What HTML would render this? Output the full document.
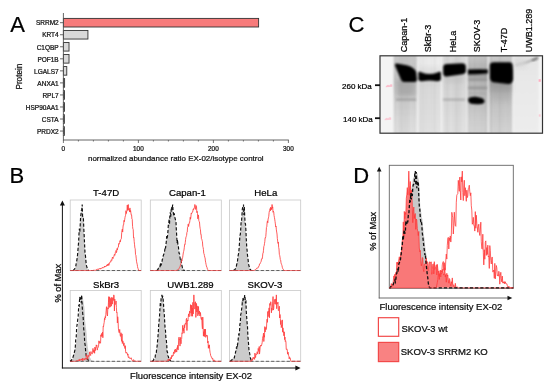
<!DOCTYPE html>
<html><head><meta charset="utf-8"><style>
html,body{margin:0;padding:0;background:#fff;}
svg{display:block;} text{stroke:#000;stroke-width:0.22px;}
</style></head><body>
<svg width="550" height="388" viewBox="0 0 550 388" font-family="'Liberation Sans', Arial, sans-serif">
<rect width="550" height="388" fill="#fff"/>
<text x="10.2" y="31.8" font-size="22">A</text>
<rect x="63.40" y="18.40" width="195.22" height="8.6" fill="#f77b7b" stroke="#333" stroke-width="0.9"/>
<text x="58.7" y="25.45" font-size="6.5" text-anchor="end" fill="#222">SRRM2</text>
<line x1="60.0" y1="22.70" x2="63.4" y2="22.70" stroke="#444" stroke-width="0.8"/>
<rect x="63.40" y="30.44" width="24.52" height="8.6" fill="#d9d9d9" stroke="#333" stroke-width="0.9"/>
<text x="58.7" y="37.49" font-size="6.5" text-anchor="end" fill="#222">KRT4</text>
<line x1="60.0" y1="34.74" x2="63.4" y2="34.74" stroke="#444" stroke-width="0.8"/>
<rect x="63.40" y="42.48" width="5.62" height="8.6" fill="#d9d9d9" stroke="#333" stroke-width="0.9"/>
<text x="58.7" y="49.53" font-size="6.5" text-anchor="end" fill="#222">C1QBP</text>
<line x1="60.0" y1="46.78" x2="63.4" y2="46.78" stroke="#444" stroke-width="0.8"/>
<rect x="63.40" y="54.52" width="5.62" height="8.6" fill="#d9d9d9" stroke="#333" stroke-width="0.9"/>
<text x="58.7" y="61.57" font-size="6.5" text-anchor="end" fill="#222">POF1B</text>
<line x1="60.0" y1="58.82" x2="63.4" y2="58.82" stroke="#444" stroke-width="0.8"/>
<rect x="63.40" y="66.56" width="3.37" height="8.6" fill="#d9d9d9" stroke="#333" stroke-width="0.9"/>
<text x="58.7" y="73.61" font-size="6.5" text-anchor="end" fill="#222">LGALS7</text>
<line x1="60.0" y1="70.86" x2="63.4" y2="70.86" stroke="#444" stroke-width="0.8"/>
<rect x="63.40" y="78.60" width="1.20" height="8.6" fill="#d9d9d9" stroke="#333" stroke-width="0.9"/>
<text x="58.7" y="85.65" font-size="6.5" text-anchor="end" fill="#222">ANXA1</text>
<line x1="60.0" y1="82.90" x2="63.4" y2="82.90" stroke="#444" stroke-width="0.8"/>
<rect x="63.40" y="90.64" width="1.05" height="8.6" fill="#d9d9d9" stroke="#333" stroke-width="0.9"/>
<text x="58.7" y="97.69" font-size="6.5" text-anchor="end" fill="#222">RPL7</text>
<line x1="60.0" y1="94.94" x2="63.4" y2="94.94" stroke="#444" stroke-width="0.8"/>
<rect x="63.40" y="102.68" width="1.05" height="8.6" fill="#d9d9d9" stroke="#333" stroke-width="0.9"/>
<text x="58.7" y="109.73" font-size="6.5" text-anchor="end" fill="#222">HSP90AA1</text>
<line x1="60.0" y1="106.98" x2="63.4" y2="106.98" stroke="#444" stroke-width="0.8"/>
<rect x="63.40" y="114.72" width="0.97" height="8.6" fill="#d9d9d9" stroke="#333" stroke-width="0.9"/>
<text x="58.7" y="121.77" font-size="6.5" text-anchor="end" fill="#222">CSTA</text>
<line x1="60.0" y1="119.02" x2="63.4" y2="119.02" stroke="#444" stroke-width="0.8"/>
<rect x="63.40" y="126.76" width="0.97" height="8.6" fill="#d9d9d9" stroke="#333" stroke-width="0.9"/>
<text x="58.7" y="133.81" font-size="6.5" text-anchor="end" fill="#222">PRDX2</text>
<line x1="60.0" y1="131.06" x2="63.4" y2="131.06" stroke="#444" stroke-width="0.8"/>
<line x1="63.4" y1="13" x2="63.4" y2="140.4" stroke="#555" stroke-width="0.9"/>
<line x1="63.0" y1="140" x2="288.79999999999995" y2="140" stroke="#555" stroke-width="0.9"/>
<line x1="63.40" y1="140" x2="63.40" y2="143" stroke="#555" stroke-width="0.8"/>
<line x1="78.40" y1="140" x2="78.40" y2="141.5" stroke="#555" stroke-width="0.8"/>
<line x1="93.40" y1="140" x2="93.40" y2="141.5" stroke="#555" stroke-width="0.8"/>
<line x1="108.40" y1="140" x2="108.40" y2="141.5" stroke="#555" stroke-width="0.8"/>
<line x1="123.40" y1="140" x2="123.40" y2="141.5" stroke="#555" stroke-width="0.8"/>
<line x1="138.40" y1="140" x2="138.40" y2="143" stroke="#555" stroke-width="0.8"/>
<line x1="153.40" y1="140" x2="153.40" y2="141.5" stroke="#555" stroke-width="0.8"/>
<line x1="168.40" y1="140" x2="168.40" y2="141.5" stroke="#555" stroke-width="0.8"/>
<line x1="183.40" y1="140" x2="183.40" y2="141.5" stroke="#555" stroke-width="0.8"/>
<line x1="198.40" y1="140" x2="198.40" y2="141.5" stroke="#555" stroke-width="0.8"/>
<line x1="213.40" y1="140" x2="213.40" y2="143" stroke="#555" stroke-width="0.8"/>
<line x1="228.40" y1="140" x2="228.40" y2="141.5" stroke="#555" stroke-width="0.8"/>
<line x1="243.40" y1="140" x2="243.40" y2="141.5" stroke="#555" stroke-width="0.8"/>
<line x1="258.40" y1="140" x2="258.40" y2="141.5" stroke="#555" stroke-width="0.8"/>
<line x1="273.40" y1="140" x2="273.40" y2="141.5" stroke="#555" stroke-width="0.8"/>
<line x1="288.40" y1="140" x2="288.40" y2="143" stroke="#555" stroke-width="0.8"/>
<text x="63.40" y="150.5" font-size="6.4" text-anchor="middle" fill="#222">0</text>
<text x="138.40" y="150.5" font-size="6.4" text-anchor="middle" fill="#222">100</text>
<text x="213.40" y="150.5" font-size="6.4" text-anchor="middle" fill="#222">200</text>
<text x="288.40" y="150.5" font-size="6.4" text-anchor="middle" fill="#222">300</text>
<text x="88" y="160.9" font-size="7.95" fill="#222">normalized abundance ratio EX-02/isotype control</text>
<text transform="translate(22,76.6) rotate(-90)" font-size="8.2" text-anchor="middle" fill="#222">Protein</text>
<text x="348.6" y="32.2" font-size="22">C</text>
<text transform="translate(407.2,52.3) rotate(-90)" font-size="9" fill="#000">Capan-1</text>
<text transform="translate(431.0,52.3) rotate(-90)" font-size="9" fill="#000">SkBr-3</text>
<text transform="translate(455.9,52.3) rotate(-90)" font-size="9" fill="#000">HeLa</text>
<text transform="translate(480.4,52.3) rotate(-90)" font-size="9" fill="#000">SKOV-3</text>
<text transform="translate(507.1,52.3) rotate(-90)" font-size="9" fill="#000">T-47D</text>
<text transform="translate(531.6,52.3) rotate(-90)" font-size="9" fill="#000">UWB1.289</text>
<defs><clipPath id="blot"><rect x="380.0" y="55.8" width="162.5" height="77.4"/></clipPath>
<filter id="b1" x="-30%" y="-30%" width="160%" height="160%"><feGaussianBlur stdDeviation="1.0"/></filter>
<filter id="b13" x="-30%" y="-30%" width="160%" height="160%"><feGaussianBlur stdDeviation="1.25"/></filter>
<filter id="b15" x="-30%" y="-30%" width="160%" height="160%"><feGaussianBlur stdDeviation="1.4"/></filter>
<filter id="b2" x="-30%" y="-30%" width="160%" height="160%"><feGaussianBlur stdDeviation="2.2"/></filter>
<filter id="b05" x="-30%" y="-30%" width="160%" height="160%"><feGaussianBlur stdDeviation="0.7"/></filter>
<linearGradient id="lg1" x1="0" y1="0" x2="0" y2="1" gradientUnits="objectBoundingBox"><stop offset="0" stop-color="#c6c6c6"/><stop offset="0.1" stop-color="#c4c4c4"/><stop offset="0.35" stop-color="#b8b8b8"/><stop offset="0.55" stop-color="#c8c8c8"/><stop offset="0.8" stop-color="#d6d6d6"/><stop offset="1" stop-color="#dddddd"/></linearGradient>
<linearGradient id="lg2" x1="0" y1="0" x2="0" y2="1" gradientUnits="objectBoundingBox"><stop offset="0" stop-color="#e4e4e4"/><stop offset="0.12" stop-color="#f0f0f0"/><stop offset="0.3" stop-color="#d6d6d6"/><stop offset="0.5" stop-color="#dcdcdc"/><stop offset="1" stop-color="#e4e4e4"/></linearGradient>
<linearGradient id="lg3" x1="0" y1="0" x2="0" y2="1" gradientUnits="objectBoundingBox"><stop offset="0" stop-color="#d8d8d8"/><stop offset="0.3" stop-color="#d0d0d0"/><stop offset="0.6" stop-color="#d6d6d6"/><stop offset="1" stop-color="#e0e0e0"/></linearGradient>
<linearGradient id="lg4" x1="0" y1="0" x2="0" y2="1" gradientUnits="objectBoundingBox"><stop offset="0" stop-color="#c8c8c8"/><stop offset="0.2" stop-color="#acacac"/><stop offset="0.5" stop-color="#b2b2b2"/><stop offset="0.75" stop-color="#c6c6c6"/><stop offset="1" stop-color="#d2d2d2"/></linearGradient>
<linearGradient id="lg5" x1="0" y1="0" x2="0" y2="1" gradientUnits="objectBoundingBox"><stop offset="0" stop-color="#d0d0d0"/><stop offset="0.33" stop-color="#9a9a9a"/><stop offset="0.45" stop-color="#acacac"/><stop offset="0.65" stop-color="#c0c0c0"/><stop offset="1" stop-color="#d2d2d2"/></linearGradient>
<linearGradient id="lg6" x1="0" y1="0" x2="0" y2="1" gradientUnits="objectBoundingBox"><stop offset="0" stop-color="#e2e2e2"/><stop offset="0.3" stop-color="#e8e8e8"/><stop offset="1" stop-color="#ededed"/></linearGradient>
</defs>
<g clip-path="url(#blot)">
<rect x="380" y="55.8" width="162.5" height="77.39999999999999" fill="#f4f4f4"/>
<g filter="url(#b1)">
<rect x="393.8" y="51.8" width="23.5" height="85.39999999999999" fill="url(#lg1)"/>
<rect x="418.2" y="51.8" width="22.80000000000001" height="85.39999999999999" fill="url(#lg2)"/>
<rect x="442" y="51.8" width="24.600000000000023" height="85.39999999999999" fill="url(#lg3)"/>
<rect x="467.4" y="51.8" width="20.600000000000023" height="85.39999999999999" fill="url(#lg4)"/>
<rect x="488.8" y="51.8" width="23.80000000000001" height="85.39999999999999" fill="url(#lg5)"/>
<rect x="513.4" y="51.8" width="25.100000000000023" height="85.39999999999999" fill="url(#lg6)"/>
</g>
<g filter="url(#b1)" opacity="0.22">
<rect x="394.80" y="55.8" width="0.84" height="77.39999999999999" fill="#bbbbbb"/>
<rect x="396.88" y="55.8" width="1.20" height="77.39999999999999" fill="#ffffff"/>
<rect x="399.79" y="55.8" width="1.51" height="77.39999999999999" fill="#aaaaaa"/>
<rect x="402.32" y="55.8" width="0.83" height="77.39999999999999" fill="#aaaaaa"/>
<rect x="404.74" y="55.8" width="1.15" height="77.39999999999999" fill="#aaaaaa"/>
<rect x="407.66" y="55.8" width="0.75" height="77.39999999999999" fill="#bbbbbb"/>
<rect x="410.65" y="55.8" width="1.12" height="77.39999999999999" fill="#ffffff"/>
<rect x="413.62" y="55.8" width="0.66" height="77.39999999999999" fill="#ffffff"/>
<rect x="415.38" y="55.8" width="0.63" height="77.39999999999999" fill="#eeeeee"/>
<rect x="419.20" y="55.8" width="1.32" height="77.39999999999999" fill="#aaaaaa"/>
<rect x="422.45" y="55.8" width="1.52" height="77.39999999999999" fill="#aaaaaa"/>
<rect x="425.92" y="55.8" width="1.18" height="77.39999999999999" fill="#bbbbbb"/>
<rect x="429.36" y="55.8" width="0.70" height="77.39999999999999" fill="#bbbbbb"/>
<rect x="431.55" y="55.8" width="0.86" height="77.39999999999999" fill="#aaaaaa"/>
<rect x="434.46" y="55.8" width="1.46" height="77.39999999999999" fill="#aaaaaa"/>
<rect x="437.43" y="55.8" width="0.99" height="77.39999999999999" fill="#eeeeee"/>
<rect x="439.99" y="55.8" width="1.01" height="77.39999999999999" fill="#bbbbbb"/>
<rect x="443.00" y="55.8" width="1.28" height="77.39999999999999" fill="#ffffff"/>
<rect x="446.49" y="55.8" width="1.59" height="77.39999999999999" fill="#bbbbbb"/>
<rect x="449.98" y="55.8" width="0.93" height="77.39999999999999" fill="#ffffff"/>
<rect x="452.84" y="55.8" width="0.81" height="77.39999999999999" fill="#eeeeee"/>
<rect x="454.72" y="55.8" width="0.66" height="77.39999999999999" fill="#aaaaaa"/>
<rect x="456.06" y="55.8" width="1.40" height="77.39999999999999" fill="#aaaaaa"/>
<rect x="459.75" y="55.8" width="0.62" height="77.39999999999999" fill="#aaaaaa"/>
<rect x="462.41" y="55.8" width="1.47" height="77.39999999999999" fill="#ffffff"/>
<rect x="465.59" y="55.8" width="1.36" height="77.39999999999999" fill="#aaaaaa"/>
<rect x="468.40" y="55.8" width="0.93" height="77.39999999999999" fill="#eeeeee"/>
<rect x="470.84" y="55.8" width="1.60" height="77.39999999999999" fill="#eeeeee"/>
<rect x="472.95" y="55.8" width="0.71" height="77.39999999999999" fill="#ffffff"/>
<rect x="476.06" y="55.8" width="1.57" height="77.39999999999999" fill="#eeeeee"/>
<rect x="479.35" y="55.8" width="0.76" height="77.39999999999999" fill="#ffffff"/>
<rect x="482.57" y="55.8" width="0.94" height="77.39999999999999" fill="#eeeeee"/>
<rect x="485.93" y="55.8" width="1.50" height="77.39999999999999" fill="#aaaaaa"/>
<rect x="489.80" y="55.8" width="1.47" height="77.39999999999999" fill="#aaaaaa"/>
<rect x="493.06" y="55.8" width="1.20" height="77.39999999999999" fill="#ffffff"/>
<rect x="495.99" y="55.8" width="1.54" height="77.39999999999999" fill="#eeeeee"/>
<rect x="498.90" y="55.8" width="1.32" height="77.39999999999999" fill="#bbbbbb"/>
<rect x="502.59" y="55.8" width="1.04" height="77.39999999999999" fill="#eeeeee"/>
<rect x="505.17" y="55.8" width="1.15" height="77.39999999999999" fill="#ffffff"/>
<rect x="508.39" y="55.8" width="1.59" height="77.39999999999999" fill="#eeeeee"/>
<rect x="510.52" y="55.8" width="1.22" height="77.39999999999999" fill="#bbbbbb"/>
</g>
<g filter="url(#b1)" fill="#fafafa" opacity="0.55">
<rect x="416.7" y="55.8" width="1.8" height="77.39999999999999"/>
<rect x="440.5" y="55.8" width="1.8" height="77.39999999999999"/>
<rect x="465.5" y="55.8" width="1.8" height="77.39999999999999"/>
<rect x="487.4" y="55.8" width="1.8" height="77.39999999999999"/>
<rect x="512.1" y="55.8" width="1.8" height="77.39999999999999"/>
</g>
<g filter="url(#b1)">
<rect x="396" y="98.6" width="20" height="2.0" fill="#8e8e8e" opacity="0.75"/>
<rect x="443" y="98.6" width="22" height="2.0" fill="#9a9a9a" opacity="0.7"/>
<rect x="468.5" y="74.5" width="18.5" height="2.2" fill="#888" opacity="0.7"/>
<rect x="468.5" y="78.3" width="18.5" height="2.4" fill="#8a8a8a" opacity="0.8"/>
<rect x="468.5" y="86.6" width="18.5" height="2.6" fill="#8e8e8e" opacity="0.75"/>
<rect x="469" y="92.5" width="17" height="1.4" fill="#a0a0a0" opacity="0.6"/>
</g>
<g filter="url(#b2)">
<rect x="397" y="80" width="18" height="16" fill="#9c9c9c" opacity="0.6"/>
<rect x="396" y="56" width="20" height="7" fill="#c4c4c4" opacity="0.5"/>
<rect x="491" y="82" width="20" height="10" fill="#888" opacity="0.6"/>
<rect x="492" y="86" width="18" height="14" fill="#aaa" opacity="0.45"/>
<rect x="445" y="75" width="19" height="8" fill="#bdbdbd" opacity="0.5"/>
</g>
<g filter="url(#b13)" fill="#000">
<path d="M395,64.2 Q395.5,63.3 397.2,63.5 L406.6,65.2 Q411,66.3 413.6,68.5 Q415.9,70.4 416.3,73 L416.9,79.6 Q416.9,82.1 414.4,82.1 L404,82.1 Q402,82 401.3,80.3 L395.4,66.6 Q394.8,65 395,64.2 Z"/>
<path d="M418.4,72 Q420,71.4 421.8,72.4 Q429.5,75.8 437.4,72.4 Q439.4,71.4 440.9,72 L440.9,79.8 Q440,81.4 437,81.2 Q429.5,80 422,81.2 Q418.8,81.4 418.4,79.8 Z"/>
<path d="M443.2,67 Q443.4,64.2 447,64.1 L462,63.3 Q465.6,63.4 465.8,66.2 L465.9,71.5 Q465.5,74.2 461,74.6 L447,76.6 Q443.3,76.8 443.2,73.5 Z"/>
<path d="M468,69.6 Q478,68.8 487.8,69.4 L487.8,73.4 Q478,74.2 468,74.6 Z"/>
<path d="M468.2,98.6 Q470.5,96.2 476,96.8 L481.5,98 Q485,99.6 484.5,102 Q483.2,104.6 477,104.2 L471,103.8 Q467.9,103 468.2,98.6 Z"/>
<path d="M489.8,65.5 Q490,62.2 494,62.2 L509.5,62.2 Q512.8,62.4 513,65.5 L513.1,79 Q512.6,84.2 508,84 L495,82.6 Q490.2,82.2 490,78 Z"/>
</g>
<path d="M516,65 Q528,62.5 537.5,58" fill="none" stroke="#888" stroke-width="1.6" filter="url(#b1)" opacity="0.7"/>
<path d="M532,60.5 Q535,59.5 538,57.6" fill="none" stroke="#444" stroke-width="1.6" filter="url(#b1)" opacity="0.8"/>
<rect x="514" y="58" width="12" height="10" fill="#d8d8d8" filter="url(#b2)" opacity="0.7"/>
<g filter="url(#b05)" fill="#ffa8bc" opacity="0.9">
<path d="M385.8,86.3 Q388,83.6 389.2,85.6 Q390.5,83.4 392.3,84.6 L392.3,86.8 L385.8,87.2 Z" opacity="0.75"/>
<path d="M384.6,119.3 Q386.8,116.6 388,118.6 Q389.3,116.4 391.2,117.6 L391.2,119.8 L384.6,120.2 Z" opacity="0.6"/>
<rect x="538.6" y="79.2" width="2.2" height="2.6"/>
<rect x="538.8" y="114.3" width="1.8" height="2.4" opacity="0.6"/>
</g>
</g>
<rect x="380" y="55.8" width="162.5" height="77.39999999999999" fill="none" stroke="#333" stroke-width="1.2"/>
<text x="342" y="88.6" font-size="8" fill="#000">260 kDa</text>
<text x="343" y="121.5" font-size="8" fill="#000">140 kDa</text>
<line x1="375" y1="85.2" x2="380" y2="85.2" stroke="#111" stroke-width="1.8"/>
<line x1="375" y1="118.2" x2="380" y2="118.2" stroke="#111" stroke-width="1.8"/>
<text x="9.6" y="183" font-size="22">B</text>
<line x1="62.4" y1="204" x2="62.4" y2="368.4" stroke="#111" stroke-width="1"/>
<path d="M62.4,200.6 L59.9,205.5 L64.9,205.5 Z" fill="#111"/>
<line x1="61.9" y1="368" x2="296" y2="368" stroke="#111" stroke-width="1"/>
<path d="M300.6,368 L295.4,365.6 L295.4,370.4 Z" fill="#111"/>
<text transform="translate(60.6,283.2) rotate(-90)" font-size="9.3" text-anchor="middle" fill="#111">% of Max</text>
<text x="130" y="379" font-size="9.4" fill="#111">Fluorescence intensity EX-02</text>
<rect x="70.2" y="200.0" width="70.99999999999999" height="70.69999999999999" fill="#fff" stroke="#c8c8c8" stroke-width="0.8"/>
<text x="106.1" y="196.0" font-size="9.6" text-anchor="middle" fill="#000">T-47D</text>
<polygon points="70.2,270.5 70.20,270.50 70.60,270.50 71.00,270.50 71.40,270.50 71.80,270.50 72.20,270.50 72.60,270.50 73.00,270.50 73.40,270.10 73.80,269.74 74.20,269.45 74.60,268.69 75.00,268.57 75.40,267.25 75.80,266.13 76.20,263.41 76.60,261.60 77.00,259.13 77.40,256.40 77.80,251.69 78.20,246.69 78.60,242.19 79.00,233.66 79.40,228.64 79.80,231.91 80.20,225.27 80.60,216.76 81.00,214.06 81.40,210.10 81.80,209.13 82.20,204.50 82.60,215.89 83.00,218.42 83.40,218.43 83.80,228.64 84.20,235.75 84.60,244.80 85.00,252.65 85.40,255.10 85.80,259.53 86.20,264.20 86.60,266.06 87.00,267.36 87.40,268.99 87.80,269.36 88.20,269.78 88.60,270.50 89.00,270.50 89.40,270.50 89.80,270.50 90.20,270.50 90.60,270.50 91.00,270.50 91.40,270.50 91.80,270.50 92.20,270.50 92.60,270.50 93.00,270.50 93.40,270.50 93.80,270.50 94.20,270.50 94.60,270.50 95.00,270.50 95.40,270.50 95.80,270.50 96.20,270.50 96.60,270.50 97.00,270.50 97.40,270.50 97.80,270.50 98.20,270.50 98.60,270.50 99.00,270.50 99.40,270.50 99.80,270.50 100.20,270.50 100.60,270.50 101.00,270.50 101.40,270.50 101.80,270.50 102.20,270.50 102.60,270.50 103.00,270.50 103.40,270.50 103.80,270.50 104.20,270.50 104.60,270.50 105.00,270.50 105.40,270.50 105.80,270.50 106.20,270.50 106.60,270.50 107.00,270.50 107.40,270.50 107.80,270.50 108.20,270.50 108.60,270.50 109.00,270.50 109.40,270.50 109.80,270.50 110.20,270.50 110.60,270.50 111.00,270.50 111.40,270.50 111.80,270.50 112.20,270.50 112.60,270.50 113.00,270.50 113.40,270.50 113.80,270.50 114.20,270.50 114.60,270.50 115.00,270.50 115.40,270.50 115.80,270.50 116.20,270.50 116.60,270.50 117.00,270.50 117.40,270.50 117.80,270.50 118.20,270.50 118.60,270.50 119.00,270.50 119.40,270.50 119.80,270.50 120.20,270.50 120.60,270.50 121.00,270.50 121.40,270.50 121.80,270.50 122.20,270.50 122.60,270.50 123.00,270.50 123.40,270.50 123.80,270.50 124.20,270.50 124.60,270.50 125.00,270.50 125.40,270.50 125.80,270.50 126.20,270.50 126.60,270.50 127.00,270.50 127.40,270.50 127.80,270.50 128.20,270.50 128.60,270.50 129.00,270.50 129.40,270.50 129.80,270.50 130.20,270.50 130.60,270.50 131.00,270.50 131.40,270.50 131.80,270.50 132.20,270.50 132.60,270.50 133.00,270.50 133.40,270.50 133.80,270.50 134.20,270.50 134.60,270.50 135.00,270.50 135.40,270.50 135.80,270.50 136.20,270.50 136.60,270.50 137.00,270.50 137.40,270.50 137.80,270.50 138.20,270.50 138.60,270.50 139.00,270.50 139.40,270.50 139.80,270.50 140.20,270.50 140.60,270.50 141.00,270.50 141.2,270.5" fill="#cbcbcb"/>
<line x1="70.2" y1="270.5" x2="141.2" y2="270.5" stroke="#555" stroke-width="0.9" stroke-dasharray="3.2,2.0"/>
<polyline points="72.90,270.5 73.40,270.10 73.80,269.74 74.20,269.45 74.60,268.69 75.00,268.57 75.40,267.25 75.80,266.13 76.20,263.41 76.60,261.60 77.00,259.13 77.40,256.40 77.80,251.69 78.20,246.69 78.60,242.19 79.00,233.66 79.40,228.64 79.80,231.91 80.20,225.27 80.60,216.76 81.00,214.06 81.40,210.10 81.80,209.13 82.20,204.50 82.60,215.89 83.00,218.42 83.40,218.43 83.80,228.64 84.20,235.75 84.60,244.80 85.00,252.65 85.40,255.10 85.80,259.53 86.20,264.20 86.60,266.06 87.00,267.36 87.40,268.99 87.80,269.36 88.20,269.78 88.70,270.5" fill="none" stroke="#111" stroke-width="1.15" stroke-dasharray="3.2,2.0"/>
<polyline points="70.20,270.50 70.53,270.50 70.86,270.50 71.19,270.50 71.52,270.50 71.85,270.50 72.18,270.50 72.51,270.50 72.84,270.50 73.17,270.50 73.50,270.50 73.83,270.50 74.16,270.50 74.49,270.50 74.82,270.50 75.15,270.50 75.48,270.50 75.81,270.50 76.14,270.50 76.47,270.50 76.80,270.50 77.13,270.50 77.46,270.50 77.79,270.50 78.12,270.50 78.45,270.50 78.78,270.50 79.11,270.50 79.44,270.50 79.77,270.50 80.10,270.50 80.43,270.50 80.76,270.50 81.09,270.50 81.42,270.50 81.75,270.50 82.08,270.50 82.41,270.50 82.74,270.50 83.07,270.50 83.40,270.50 83.73,270.50 84.06,270.50 84.39,270.50 84.72,270.50 85.05,270.50 85.38,270.50 85.71,270.50 86.04,270.50 86.37,270.50 86.70,270.50 87.03,270.50 87.36,270.50 87.69,270.50 88.02,270.50 88.35,270.50 88.68,270.50 89.01,270.50 89.34,270.50 89.67,270.50 90.00,270.50 90.33,270.50 90.66,270.50 90.99,270.50 91.32,270.50 91.65,270.50 91.98,270.50 92.31,270.50 92.64,270.50 92.97,270.50 93.30,270.42 93.63,270.27 93.96,270.41 94.29,270.07 94.62,270.22 94.95,270.14 95.28,270.37 95.61,270.36 95.94,269.70 96.27,269.97 96.60,269.49 96.93,269.56 97.26,269.41 97.59,269.04 97.92,269.30 98.25,270.07 98.58,269.57 98.91,268.69 99.24,268.27 99.57,268.79 99.90,268.88 100.23,269.01 100.56,268.25 100.89,268.96 101.22,268.67 101.55,268.06 101.88,267.96 102.21,267.98 102.54,267.35 102.87,268.15 103.20,268.01 103.53,267.57 103.86,267.23 104.19,267.27 104.52,266.09 104.85,267.10 105.18,266.37 105.51,266.77 105.84,266.16 106.17,266.35 106.50,266.14 106.83,264.89 107.16,265.70 107.49,264.35 107.82,265.41 108.15,264.94 108.48,263.66 108.81,265.44 109.14,264.56 109.47,263.06 109.80,262.29 110.13,261.73 110.46,261.86 110.79,262.17 111.12,259.99 111.45,259.75 111.78,260.47 112.11,258.99 112.44,257.05 112.77,257.91 113.10,258.50 113.43,257.29 113.76,256.67 114.09,255.44 114.42,254.30 114.75,255.43 115.08,254.53 115.41,252.22 115.74,251.81 116.07,250.46 116.40,252.70 116.73,251.45 117.06,248.54 117.39,249.93 117.72,247.67 118.05,247.24 118.38,247.14 118.71,243.50 119.04,244.28 119.37,243.83 119.70,242.29 120.03,240.60 120.36,241.84 120.69,239.66 121.02,238.90 121.35,238.66 121.68,232.71 122.01,230.42 122.34,229.14 122.67,232.08 123.00,227.02 123.33,224.69 123.66,224.75 123.99,220.42 124.32,221.73 124.65,219.79 124.98,217.64 125.31,215.94 125.64,215.24 125.97,210.69 126.30,213.55 126.63,211.58 126.96,211.12 127.29,205.07 127.62,210.34 127.95,207.31 128.28,204.50 128.61,210.18 128.94,209.74 129.27,209.25 129.60,211.81 129.93,207.92 130.26,212.14 130.59,210.52 130.92,212.79 131.25,215.10 131.58,214.90 131.91,218.97 132.24,219.29 132.57,226.38 132.90,228.91 133.23,229.58 133.56,237.94 133.89,237.57 134.22,241.68 134.55,244.81 134.88,247.98 135.21,248.80 135.54,254.64 135.87,255.17 136.20,258.15 136.53,261.22 136.86,263.02 137.19,264.27 137.52,266.49 137.85,268.19 138.18,268.69 138.51,269.96 138.84,270.50 139.17,270.50 139.50,270.50 139.83,270.50 140.16,270.50 140.49,270.50 140.82,270.50 141.15,270.50" fill="none" stroke="#ff4040" stroke-width="0.85" stroke-linejoin="round"/>
<rect x="150.3" y="200.0" width="71.0" height="70.69999999999999" fill="#fff" stroke="#c8c8c8" stroke-width="0.8"/>
<text x="187.4" y="196.0" font-size="9.6" text-anchor="middle" fill="#000">Capan-1</text>
<polygon points="150.3,270.5 150.30,270.50 150.70,270.50 151.10,270.50 151.50,270.50 151.90,270.50 152.30,270.50 152.70,270.50 153.10,270.50 153.50,270.50 153.90,270.50 154.30,270.50 154.70,270.50 155.10,270.50 155.50,270.50 155.90,270.50 156.30,270.50 156.70,270.50 157.10,270.45 157.50,269.83 157.90,269.65 158.30,268.30 158.70,267.93 159.10,267.13 159.50,266.33 159.90,266.61 160.30,264.42 160.70,262.43 161.10,264.88 161.50,264.11 161.90,262.94 162.30,259.27 162.70,258.80 163.10,256.19 163.50,255.03 163.90,254.01 164.30,252.07 164.70,250.83 165.10,247.11 165.50,248.36 165.90,244.98 166.30,241.50 166.70,236.12 167.10,238.47 167.50,236.15 167.90,231.90 168.30,225.27 168.70,225.12 169.10,218.83 169.50,224.40 169.90,214.41 170.30,212.25 170.70,216.64 171.10,210.81 171.50,206.89 171.90,209.72 172.30,207.56 172.70,204.50 173.10,211.07 173.50,213.58 173.90,215.95 174.30,213.33 174.70,216.80 175.10,218.29 175.50,219.99 175.90,220.48 176.30,228.76 176.70,235.66 177.10,242.97 177.50,239.63 177.90,244.78 178.30,245.08 178.70,250.06 179.10,253.37 179.50,253.65 179.90,256.37 180.30,259.72 180.70,261.08 181.10,260.23 181.50,263.60 181.90,265.29 182.30,267.14 182.70,268.30 183.10,268.35 183.50,269.54 183.90,270.25 184.30,270.44 184.70,270.50 185.10,270.50 185.50,270.50 185.90,270.50 186.30,270.50 186.70,270.50 187.10,270.50 187.50,270.50 187.90,270.50 188.30,270.50 188.70,270.50 189.10,270.50 189.50,270.50 189.90,270.50 190.30,270.50 190.70,270.50 191.10,270.50 191.50,270.50 191.90,270.50 192.30,270.50 192.70,270.50 193.10,270.50 193.50,270.50 193.90,270.50 194.30,270.50 194.70,270.50 195.10,270.50 195.50,270.50 195.90,270.50 196.30,270.50 196.70,270.50 197.10,270.50 197.50,270.50 197.90,270.50 198.30,270.50 198.70,270.50 199.10,270.50 199.50,270.50 199.90,270.50 200.30,270.50 200.70,270.50 201.10,270.50 201.50,270.50 201.90,270.50 202.30,270.50 202.70,270.50 203.10,270.50 203.50,270.50 203.90,270.50 204.30,270.50 204.70,270.50 205.10,270.50 205.50,270.50 205.90,270.50 206.30,270.50 206.70,270.50 207.10,270.50 207.50,270.50 207.90,270.50 208.30,270.50 208.70,270.50 209.10,270.50 209.50,270.50 209.90,270.50 210.30,270.50 210.70,270.50 211.10,270.50 211.50,270.50 211.90,270.50 212.30,270.50 212.70,270.50 213.10,270.50 213.50,270.50 213.90,270.50 214.30,270.50 214.70,270.50 215.10,270.50 215.50,270.50 215.90,270.50 216.30,270.50 216.70,270.50 217.10,270.50 217.50,270.50 217.90,270.50 218.30,270.50 218.70,270.50 219.10,270.50 219.50,270.50 219.90,270.50 220.30,270.50 220.70,270.50 221.10,270.50 221.3,270.5" fill="#cbcbcb"/>
<line x1="150.3" y1="270.5" x2="221.3" y2="270.5" stroke="#555" stroke-width="0.9" stroke-dasharray="3.2,2.0"/>
<polyline points="157.00,270.5 157.50,269.83 157.90,269.65 158.30,268.30 158.70,267.93 159.10,267.13 159.50,266.33 159.90,266.61 160.30,264.42 160.70,262.43 161.10,264.88 161.50,264.11 161.90,262.94 162.30,259.27 162.70,258.80 163.10,256.19 163.50,255.03 163.90,254.01 164.30,252.07 164.70,250.83 165.10,247.11 165.50,248.36 165.90,244.98 166.30,241.50 166.70,236.12 167.10,238.47 167.50,236.15 167.90,231.90 168.30,225.27 168.70,225.12 169.10,218.83 169.50,224.40 169.90,214.41 170.30,212.25 170.70,216.64 171.10,210.81 171.50,206.89 171.90,209.72 172.30,207.56 172.70,204.50 173.10,211.07 173.50,213.58 173.90,215.95 174.30,213.33 174.70,216.80 175.10,218.29 175.50,219.99 175.90,220.48 176.30,228.76 176.70,235.66 177.10,242.97 177.50,239.63 177.90,244.78 178.30,245.08 178.70,250.06 179.10,253.37 179.50,253.65 179.90,256.37 180.30,259.72 180.70,261.08 181.10,260.23 181.50,263.60 181.90,265.29 182.30,267.14 182.70,268.30 183.10,268.35 183.50,269.54 183.90,270.25 184.30,270.44 184.80,270.5" fill="none" stroke="#111" stroke-width="1.15" stroke-dasharray="3.2,2.0"/>
<polyline points="150.30,270.50 150.63,270.50 150.96,270.50 151.29,270.50 151.62,270.50 151.95,270.50 152.28,270.50 152.61,270.50 152.94,270.50 153.27,270.50 153.60,270.50 153.93,270.50 154.26,270.50 154.59,270.50 154.92,270.50 155.25,270.50 155.58,270.50 155.91,270.50 156.24,270.50 156.57,270.50 156.90,270.50 157.23,270.50 157.56,270.50 157.89,270.50 158.22,270.50 158.55,270.50 158.88,270.50 159.21,270.50 159.54,270.50 159.87,270.50 160.20,270.50 160.53,270.50 160.86,270.50 161.19,270.50 161.52,270.50 161.85,270.50 162.18,270.50 162.51,270.50 162.84,270.50 163.17,270.50 163.50,270.50 163.83,270.50 164.16,270.50 164.49,270.50 164.82,270.50 165.15,270.50 165.48,270.50 165.81,270.50 166.14,270.50 166.47,270.50 166.80,270.50 167.13,270.50 167.46,270.50 167.79,270.50 168.12,270.50 168.45,270.50 168.78,270.50 169.11,270.50 169.44,270.50 169.77,270.50 170.10,270.50 170.43,270.50 170.76,270.50 171.09,270.50 171.42,270.50 171.75,270.50 172.08,270.50 172.41,270.50 172.74,270.50 173.07,270.50 173.40,270.50 173.73,270.50 174.06,270.50 174.39,270.50 174.72,270.50 175.05,270.50 175.38,270.50 175.71,270.50 176.04,270.50 176.37,270.46 176.70,270.28 177.03,270.10 177.36,270.25 177.69,269.65 178.02,269.46 178.35,269.48 178.68,269.29 179.01,268.64 179.34,267.70 179.67,267.31 180.00,267.04 180.33,265.63 180.66,264.06 180.99,263.46 181.32,262.44 181.65,260.58 181.98,261.00 182.31,257.93 182.64,257.78 182.97,255.13 183.30,252.94 183.63,251.48 183.96,250.10 184.29,247.77 184.62,244.55 184.95,244.90 185.28,242.55 185.61,239.40 185.94,237.16 186.27,236.46 186.60,235.43 186.93,232.22 187.26,231.96 187.59,227.12 187.92,226.43 188.25,224.07 188.58,226.47 188.91,224.37 189.24,222.70 189.57,222.82 189.90,220.57 190.23,217.27 190.56,219.16 190.89,217.01 191.22,213.18 191.55,213.92 191.88,212.54 192.21,212.27 192.54,212.32 192.87,210.98 193.20,209.13 193.53,209.76 193.86,208.10 194.19,208.40 194.52,207.43 194.85,204.50 195.18,206.01 195.51,209.40 195.84,208.10 196.17,205.58 196.50,206.63 196.83,212.59 197.16,211.35 197.49,213.44 197.82,218.80 198.15,215.97 198.48,214.93 198.81,220.48 199.14,221.64 199.47,221.86 199.80,226.03 200.13,228.33 200.46,229.75 200.79,234.35 201.12,234.27 201.45,238.72 201.78,239.21 202.11,240.45 202.44,241.69 202.77,246.37 203.10,247.44 203.43,249.51 203.76,253.39 204.09,253.86 204.42,255.53 204.75,257.17 205.08,257.99 205.41,260.96 205.74,262.73 206.07,264.40 206.40,265.89 206.73,266.99 207.06,267.61 207.39,269.15 207.72,269.55 208.05,270.41 208.38,270.50 208.71,270.50 209.04,270.50 209.37,270.50 209.70,270.50 210.03,270.50 210.36,270.50 210.69,270.50 211.02,270.50 211.35,270.50 211.68,270.50 212.01,270.50 212.34,270.50 212.67,270.50 213.00,270.50 213.33,270.50 213.66,270.50 213.99,270.50 214.32,270.50 214.65,270.50 214.98,270.50 215.31,270.50 215.64,270.50 215.97,270.50 216.30,270.50 216.63,270.50 216.96,270.50 217.29,270.50 217.62,270.50 217.95,270.50 218.28,270.50 218.61,270.50 218.94,270.50 219.27,270.50 219.60,270.50 219.93,270.50 220.26,270.50 220.59,270.50 220.92,270.50 221.25,270.50" fill="none" stroke="#ff4040" stroke-width="0.85" stroke-linejoin="round"/>
<rect x="229.5" y="200.0" width="71.19999999999999" height="70.69999999999999" fill="#fff" stroke="#c8c8c8" stroke-width="0.8"/>
<text x="265.8" y="196.0" font-size="9.6" text-anchor="middle" fill="#000">HeLa</text>
<polygon points="229.5,270.5 229.50,270.50 229.90,270.50 230.30,270.50 230.70,270.50 231.10,270.50 231.50,270.50 231.90,270.50 232.30,270.50 232.70,270.50 233.10,270.50 233.50,270.50 233.90,270.12 234.30,269.87 234.70,269.71 235.10,269.47 235.50,268.59 235.90,267.27 236.30,266.66 236.70,264.31 237.10,263.57 237.50,261.22 237.90,256.75 238.30,254.87 238.70,252.89 239.10,248.45 239.50,242.75 239.90,235.13 240.30,234.69 240.70,229.66 241.10,221.71 241.50,221.79 241.90,216.10 242.30,209.32 242.70,207.37 243.10,206.92 243.50,204.50 243.90,215.04 244.30,206.38 244.70,215.91 245.10,222.98 245.50,224.23 245.90,230.03 246.30,239.21 246.70,246.61 247.10,250.31 247.50,255.34 247.90,257.64 248.30,261.79 248.70,264.85 249.10,266.06 249.50,268.23 249.90,269.40 250.30,269.38 250.70,269.81 251.10,270.50 251.50,270.50 251.90,270.50 252.30,270.50 252.70,270.50 253.10,270.50 253.50,270.50 253.90,270.50 254.30,270.50 254.70,270.50 255.10,270.50 255.50,270.50 255.90,270.50 256.30,270.50 256.70,270.50 257.10,270.50 257.50,270.50 257.90,270.50 258.30,270.50 258.70,270.50 259.10,270.50 259.50,270.50 259.90,270.50 260.30,270.50 260.70,270.50 261.10,270.50 261.50,270.50 261.90,270.50 262.30,270.50 262.70,270.50 263.10,270.50 263.50,270.50 263.90,270.50 264.30,270.50 264.70,270.50 265.10,270.50 265.50,270.50 265.90,270.50 266.30,270.50 266.70,270.50 267.10,270.50 267.50,270.50 267.90,270.50 268.30,270.50 268.70,270.50 269.10,270.50 269.50,270.50 269.90,270.50 270.30,270.50 270.70,270.50 271.10,270.50 271.50,270.50 271.90,270.50 272.30,270.50 272.70,270.50 273.10,270.50 273.50,270.50 273.90,270.50 274.30,270.50 274.70,270.50 275.10,270.50 275.50,270.50 275.90,270.50 276.30,270.50 276.70,270.50 277.10,270.50 277.50,270.50 277.90,270.50 278.30,270.50 278.70,270.50 279.10,270.50 279.50,270.50 279.90,270.50 280.30,270.50 280.70,270.50 281.10,270.50 281.50,270.50 281.90,270.50 282.30,270.50 282.70,270.50 283.10,270.50 283.50,270.50 283.90,270.50 284.30,270.50 284.70,270.50 285.10,270.50 285.50,270.50 285.90,270.50 286.30,270.50 286.70,270.50 287.10,270.50 287.50,270.50 287.90,270.50 288.30,270.50 288.70,270.50 289.10,270.50 289.50,270.50 289.90,270.50 290.30,270.50 290.70,270.50 291.10,270.50 291.50,270.50 291.90,270.50 292.30,270.50 292.70,270.50 293.10,270.50 293.50,270.50 293.90,270.50 294.30,270.50 294.70,270.50 295.10,270.50 295.50,270.50 295.90,270.50 296.30,270.50 296.70,270.50 297.10,270.50 297.50,270.50 297.90,270.50 298.30,270.50 298.70,270.50 299.10,270.50 299.50,270.50 299.90,270.50 300.30,270.50 300.70,270.50 300.7,270.5" fill="#cbcbcb"/>
<line x1="229.5" y1="270.5" x2="300.7" y2="270.5" stroke="#555" stroke-width="0.9" stroke-dasharray="3.2,2.0"/>
<polyline points="233.40,270.5 233.90,270.12 234.30,269.87 234.70,269.71 235.10,269.47 235.50,268.59 235.90,267.27 236.30,266.66 236.70,264.31 237.10,263.57 237.50,261.22 237.90,256.75 238.30,254.87 238.70,252.89 239.10,248.45 239.50,242.75 239.90,235.13 240.30,234.69 240.70,229.66 241.10,221.71 241.50,221.79 241.90,216.10 242.30,209.32 242.70,207.37 243.10,206.92 243.50,204.50 243.90,215.04 244.30,206.38 244.70,215.91 245.10,222.98 245.50,224.23 245.90,230.03 246.30,239.21 246.70,246.61 247.10,250.31 247.50,255.34 247.90,257.64 248.30,261.79 248.70,264.85 249.10,266.06 249.50,268.23 249.90,269.40 250.30,269.38 250.70,269.81 251.20,270.5" fill="none" stroke="#111" stroke-width="1.15" stroke-dasharray="3.2,2.0"/>
<polyline points="229.50,270.50 229.83,270.50 230.16,270.50 230.49,270.50 230.82,270.50 231.15,270.50 231.48,270.50 231.81,270.50 232.14,270.50 232.47,270.50 232.80,270.50 233.13,270.50 233.46,270.50 233.79,270.50 234.12,270.50 234.45,270.50 234.78,270.50 235.11,270.50 235.44,270.50 235.77,270.50 236.10,270.50 236.43,270.50 236.76,270.50 237.09,270.50 237.42,270.50 237.75,270.50 238.08,270.50 238.41,270.50 238.74,270.50 239.07,270.50 239.40,270.50 239.73,270.50 240.06,270.50 240.39,270.50 240.72,270.50 241.05,270.50 241.38,270.50 241.71,270.50 242.04,270.50 242.37,270.50 242.70,270.50 243.03,270.50 243.36,270.50 243.69,270.50 244.02,270.50 244.35,270.50 244.68,270.50 245.01,270.50 245.34,270.50 245.67,270.50 246.00,270.50 246.33,270.50 246.66,270.50 246.99,270.50 247.32,270.50 247.65,270.50 247.98,270.50 248.31,270.50 248.64,270.50 248.97,270.50 249.30,270.50 249.63,270.50 249.96,270.50 250.29,270.50 250.62,270.50 250.95,270.50 251.28,270.50 251.61,270.50 251.94,270.50 252.27,270.50 252.60,270.50 252.93,270.50 253.26,270.50 253.59,270.50 253.92,270.45 254.25,270.40 254.58,270.31 254.91,270.12 255.24,269.56 255.57,269.73 255.90,269.47 256.23,269.03 256.56,268.36 256.89,268.33 257.22,268.55 257.55,267.78 257.88,267.44 258.21,267.66 258.54,266.98 258.87,265.94 259.20,265.76 259.53,263.92 259.86,263.95 260.19,263.67 260.52,262.59 260.85,262.28 261.18,261.17 261.51,259.05 261.84,258.63 262.17,258.92 262.50,256.92 262.83,253.34 263.16,253.15 263.49,250.25 263.82,246.51 264.15,245.83 264.48,243.71 264.81,241.70 265.14,237.64 265.47,237.93 265.80,236.46 266.13,232.20 266.46,227.40 266.79,226.91 267.12,222.64 267.45,220.91 267.78,222.82 268.11,219.07 268.44,217.90 268.77,216.27 269.10,212.65 269.43,210.89 269.76,210.73 270.09,208.58 270.42,210.80 270.75,207.15 271.08,209.88 271.41,207.94 271.74,209.30 272.07,204.50 272.40,208.14 272.73,206.92 273.06,212.29 273.39,211.22 273.72,212.15 274.05,215.47 274.38,217.25 274.71,219.12 275.04,221.39 275.37,223.92 275.70,226.80 276.03,226.01 276.36,229.86 276.69,232.06 277.02,234.02 277.35,238.57 277.68,240.98 278.01,243.38 278.34,242.13 278.67,247.38 279.00,249.03 279.33,254.32 279.66,255.32 279.99,257.10 280.32,259.54 280.65,259.95 280.98,262.61 281.31,263.91 281.64,264.59 281.97,265.62 282.30,267.27 282.63,268.38 282.96,269.02 283.29,269.30 283.62,270.25 283.95,270.50 284.28,270.50 284.61,270.50 284.94,270.50 285.27,270.50 285.60,270.50 285.93,270.50 286.26,270.50 286.59,270.50 286.92,270.50 287.25,270.50 287.58,270.50 287.91,270.50 288.24,270.50 288.57,270.50 288.90,270.50 289.23,270.50 289.56,270.50 289.89,270.50 290.22,270.50 290.55,270.50 290.88,270.50 291.21,270.50 291.54,270.50 291.87,270.50 292.20,270.50 292.53,270.50 292.86,270.50 293.19,270.50 293.52,270.50 293.85,270.50 294.18,270.50 294.51,270.50 294.84,270.50 295.17,270.50 295.50,270.50 295.83,270.50 296.16,270.50 296.49,270.50 296.82,270.50 297.15,270.50 297.48,270.50 297.81,270.50 298.14,270.50 298.47,270.50 298.80,270.50 299.13,270.50 299.46,270.50 299.79,270.50 300.12,270.50 300.45,270.50" fill="none" stroke="#ff4040" stroke-width="0.85" stroke-linejoin="round"/>
<rect x="70.2" y="290.4" width="70.99999999999999" height="71.10000000000002" fill="#fff" stroke="#c8c8c8" stroke-width="0.8"/>
<text x="106.1" y="287.6" font-size="9.6" text-anchor="middle" fill="#000">SkBr3</text>
<polygon points="70.2,361.3 70.20,361.27 70.60,360.78 71.00,359.98 71.40,359.98 71.80,360.56 72.20,359.36 72.60,359.08 73.00,357.83 73.40,358.16 73.80,355.52 74.20,354.03 74.60,350.81 75.00,350.07 75.40,347.38 75.80,347.50 76.20,338.71 76.60,342.18 77.00,333.18 77.40,331.95 77.80,329.04 78.20,324.42 78.60,320.28 79.00,313.57 79.40,310.81 79.80,302.87 80.20,308.60 80.60,300.80 81.00,301.20 81.40,294.90 81.80,302.58 82.20,297.41 82.60,296.70 83.00,303.30 83.40,298.83 83.80,304.32 84.20,305.93 84.60,310.36 85.00,319.62 85.40,323.70 85.80,326.93 86.20,329.50 86.60,333.70 87.00,340.47 87.40,343.83 87.80,347.26 88.20,349.72 88.60,351.69 89.00,353.63 89.40,353.37 89.80,357.02 90.20,357.95 90.60,358.38 91.00,359.83 91.40,360.04 91.80,360.27 92.20,360.34 92.60,361.30 93.00,361.30 93.40,361.30 93.80,361.30 94.20,361.30 94.60,361.30 95.00,361.30 95.40,361.30 95.80,361.30 96.20,361.30 96.60,361.30 97.00,361.30 97.40,361.30 97.80,361.30 98.20,361.30 98.60,361.30 99.00,361.30 99.40,361.30 99.80,361.30 100.20,361.30 100.60,361.30 101.00,361.30 101.40,361.30 101.80,361.30 102.20,361.30 102.60,361.30 103.00,361.30 103.40,361.30 103.80,361.30 104.20,361.30 104.60,361.30 105.00,361.30 105.40,361.30 105.80,361.30 106.20,361.30 106.60,361.30 107.00,361.30 107.40,361.30 107.80,361.30 108.20,361.30 108.60,361.30 109.00,361.30 109.40,361.30 109.80,361.30 110.20,361.30 110.60,361.30 111.00,361.30 111.40,361.30 111.80,361.30 112.20,361.30 112.60,361.30 113.00,361.30 113.40,361.30 113.80,361.30 114.20,361.30 114.60,361.30 115.00,361.30 115.40,361.30 115.80,361.30 116.20,361.30 116.60,361.30 117.00,361.30 117.40,361.30 117.80,361.30 118.20,361.30 118.60,361.30 119.00,361.30 119.40,361.30 119.80,361.30 120.20,361.30 120.60,361.30 121.00,361.30 121.40,361.30 121.80,361.30 122.20,361.30 122.60,361.30 123.00,361.30 123.40,361.30 123.80,361.30 124.20,361.30 124.60,361.30 125.00,361.30 125.40,361.30 125.80,361.30 126.20,361.30 126.60,361.30 127.00,361.30 127.40,361.30 127.80,361.30 128.20,361.30 128.60,361.30 129.00,361.30 129.40,361.30 129.80,361.30 130.20,361.30 130.60,361.30 131.00,361.30 131.40,361.30 131.80,361.30 132.20,361.30 132.60,361.30 133.00,361.30 133.40,361.30 133.80,361.30 134.20,361.30 134.60,361.30 135.00,361.30 135.40,361.30 135.80,361.30 136.20,361.30 136.60,361.30 137.00,361.30 137.40,361.30 137.80,361.30 138.20,361.30 138.60,361.30 139.00,361.30 139.40,361.30 139.80,361.30 140.20,361.30 140.60,361.30 141.00,361.30 141.2,361.3" fill="#cbcbcb"/>
<line x1="70.2" y1="361.3" x2="141.2" y2="361.3" stroke="#555" stroke-width="0.9" stroke-dasharray="3.2,2.0"/>
<polyline points="70.20,361.3 70.70,360.64 71.20,360.95 71.70,359.60 72.20,358.57 72.70,358.46 73.20,356.49 73.70,354.79 74.20,353.11 74.70,350.83 75.20,349.06 75.70,339.81 76.20,337.31 76.70,327.00 77.20,324.47 77.70,319.76 78.20,316.29 78.70,305.76 79.20,306.12 79.70,296.77 80.20,299.88 80.70,297.20 81.20,302.79 81.70,294.90 82.20,306.54 82.70,313.57 83.20,317.89 83.70,329.03 84.20,332.82 84.70,342.56 85.20,345.35 85.70,351.76 86.20,355.73 86.70,356.93 87.20,359.15 87.70,359.15 88.20,360.18 88.70,360.51 89.20,361.3" fill="none" stroke="#111" stroke-width="1.15" stroke-dasharray="3.2,2.0"/>
<polyline points="70.20,361.30 70.53,361.30 70.86,361.30 71.19,361.30 71.52,361.30 71.85,361.30 72.18,361.30 72.51,361.30 72.84,361.30 73.17,361.30 73.50,361.30 73.83,361.30 74.16,361.30 74.49,361.30 74.82,361.30 75.15,361.30 75.48,361.30 75.81,361.30 76.14,361.14 76.47,361.08 76.80,360.53 77.13,361.09 77.46,361.12 77.79,360.57 78.12,359.97 78.45,360.57 78.78,359.94 79.11,359.42 79.44,361.15 79.77,359.24 80.10,359.26 80.43,360.31 80.76,359.90 81.09,360.13 81.42,359.03 81.75,360.10 82.08,358.97 82.41,358.22 82.74,360.84 83.07,358.82 83.40,359.16 83.73,359.44 84.06,358.41 84.39,358.82 84.72,360.13 85.05,359.00 85.38,358.20 85.71,358.82 86.04,359.33 86.37,354.56 86.70,355.52 87.03,355.42 87.36,356.70 87.69,359.39 88.02,356.75 88.35,355.36 88.68,356.53 89.01,356.50 89.34,354.86 89.67,351.85 90.00,354.39 90.33,354.42 90.66,355.54 90.99,351.55 91.32,353.22 91.65,353.57 91.98,353.73 92.31,353.92 92.64,352.14 92.97,348.42 93.30,351.75 93.63,350.49 93.96,352.64 94.29,350.17 94.62,353.29 94.95,347.01 95.28,350.65 95.61,347.99 95.94,348.29 96.27,344.86 96.60,346.15 96.93,345.44 97.26,350.12 97.59,348.36 97.92,347.84 98.25,347.06 98.58,346.13 98.91,340.84 99.24,342.63 99.57,341.66 99.90,343.48 100.23,342.72 100.56,343.06 100.89,334.85 101.22,336.58 101.55,333.47 101.88,333.70 102.21,336.15 102.54,332.00 102.87,337.76 103.20,326.16 103.53,326.72 103.86,324.03 104.19,322.41 104.52,318.33 104.85,319.66 105.18,316.63 105.51,317.85 105.84,314.38 106.17,310.53 106.50,306.71 106.83,311.26 107.16,314.84 107.49,316.01 107.82,307.72 108.15,309.08 108.48,302.15 108.81,296.62 109.14,307.53 109.47,297.12 109.80,297.11 110.13,307.13 110.46,304.29 110.79,298.31 111.12,305.41 111.45,306.13 111.78,297.27 112.11,303.82 112.44,304.04 112.77,297.79 113.10,300.62 113.43,300.29 113.76,294.90 114.09,296.05 114.42,310.97 114.75,299.08 115.08,304.50 115.41,304.38 115.74,303.68 116.07,300.96 116.40,307.24 116.73,313.01 117.06,312.62 117.39,322.97 117.72,316.78 118.05,320.43 118.38,328.16 118.71,331.07 119.04,332.71 119.37,332.66 119.70,329.41 120.03,333.29 120.36,336.28 120.69,336.24 121.02,332.76 121.35,338.72 121.68,341.36 122.01,333.86 122.34,343.48 122.67,340.89 123.00,340.86 123.33,343.75 123.66,345.62 123.99,342.88 124.32,346.52 124.65,346.19 124.98,348.55 125.31,345.69 125.64,351.83 125.97,353.19 126.30,353.09 126.63,352.37 126.96,353.29 127.29,353.29 127.62,355.21 127.95,354.02 128.28,357.43 128.61,357.66 128.94,356.77 129.27,357.78 129.60,358.29 129.93,358.35 130.26,358.81 130.59,358.06 130.92,357.96 131.25,357.82 131.58,359.13 131.91,360.10 132.24,360.60 132.57,360.76 132.90,361.22 133.23,360.06 133.56,359.64 133.89,360.70 134.22,360.62 134.55,361.30 134.88,360.90 135.21,361.17 135.54,360.98 135.87,361.30 136.20,361.30 136.53,361.30 136.86,361.30 137.19,360.93 137.52,361.18 137.85,361.30 138.18,361.30 138.51,361.30 138.84,361.30 139.17,361.30 139.50,361.30 139.83,361.30 140.16,361.30 140.49,361.30 140.82,361.30 141.15,361.30" fill="none" stroke="#ff4040" stroke-width="0.85" stroke-linejoin="round"/>
<rect x="150.3" y="290.4" width="71.0" height="71.10000000000002" fill="#fff" stroke="#c8c8c8" stroke-width="0.8"/>
<text x="190.5" y="287.6" font-size="9.6" text-anchor="middle" fill="#000">UWB1.289</text>
<polygon points="150.3,361.3 150.30,361.30 150.70,361.30 151.10,361.30 151.50,361.30 151.90,361.30 152.30,361.30 152.70,360.98 153.10,360.80 153.50,359.91 153.90,358.94 154.30,358.87 154.70,358.91 155.10,357.63 155.50,353.90 155.90,353.17 156.30,353.01 156.70,348.14 157.10,346.33 157.50,341.66 157.90,337.04 158.30,332.68 158.70,324.81 159.10,320.78 159.50,316.72 159.90,308.98 160.30,303.01 160.70,305.86 161.10,298.63 161.50,298.51 161.90,294.90 162.30,298.29 162.70,295.83 163.10,298.80 163.50,303.54 163.90,310.44 164.30,314.20 164.70,321.74 165.10,328.13 165.50,330.50 165.90,338.44 166.30,339.37 166.70,344.55 167.10,351.79 167.50,351.92 167.90,355.68 168.30,356.47 168.70,357.89 169.10,360.09 169.50,359.84 169.90,360.36 170.30,360.40 170.70,361.30 171.10,361.30 171.50,361.30 171.90,361.30 172.30,361.30 172.70,361.30 173.10,361.30 173.50,361.30 173.90,361.30 174.30,361.30 174.70,361.30 175.10,361.30 175.50,361.30 175.90,361.30 176.30,361.30 176.70,361.30 177.10,361.30 177.50,361.30 177.90,361.30 178.30,361.30 178.70,361.30 179.10,361.30 179.50,361.30 179.90,361.30 180.30,361.30 180.70,361.30 181.10,361.30 181.50,361.30 181.90,361.30 182.30,361.30 182.70,361.30 183.10,361.30 183.50,361.30 183.90,361.30 184.30,361.30 184.70,361.30 185.10,361.30 185.50,361.30 185.90,361.30 186.30,361.30 186.70,361.30 187.10,361.30 187.50,361.30 187.90,361.30 188.30,361.30 188.70,361.30 189.10,361.30 189.50,361.30 189.90,361.30 190.30,361.30 190.70,361.30 191.10,361.30 191.50,361.30 191.90,361.30 192.30,361.30 192.70,361.30 193.10,361.30 193.50,361.30 193.90,361.30 194.30,361.30 194.70,361.30 195.10,361.30 195.50,361.30 195.90,361.30 196.30,361.30 196.70,361.30 197.10,361.30 197.50,361.30 197.90,361.30 198.30,361.30 198.70,361.30 199.10,361.30 199.50,361.30 199.90,361.30 200.30,361.30 200.70,361.30 201.10,361.30 201.50,361.30 201.90,361.30 202.30,361.30 202.70,361.30 203.10,361.30 203.50,361.30 203.90,361.30 204.30,361.30 204.70,361.30 205.10,361.30 205.50,361.30 205.90,361.30 206.30,361.30 206.70,361.30 207.10,361.30 207.50,361.30 207.90,361.30 208.30,361.30 208.70,361.30 209.10,361.30 209.50,361.30 209.90,361.30 210.30,361.30 210.70,361.30 211.10,361.30 211.50,361.30 211.90,361.30 212.30,361.30 212.70,361.30 213.10,361.30 213.50,361.30 213.90,361.30 214.30,361.30 214.70,361.30 215.10,361.30 215.50,361.30 215.90,361.30 216.30,361.30 216.70,361.30 217.10,361.30 217.50,361.30 217.90,361.30 218.30,361.30 218.70,361.30 219.10,361.30 219.50,361.30 219.90,361.30 220.30,361.30 220.70,361.30 221.10,361.30 221.3,361.3" fill="#cbcbcb"/>
<line x1="150.3" y1="361.3" x2="221.3" y2="361.3" stroke="#555" stroke-width="0.9" stroke-dasharray="3.2,2.0"/>
<polyline points="152.20,361.3 152.70,360.98 153.10,360.80 153.50,359.91 153.90,358.94 154.30,358.87 154.70,358.91 155.10,357.63 155.50,353.90 155.90,353.17 156.30,353.01 156.70,348.14 157.10,346.33 157.50,341.66 157.90,337.04 158.30,332.68 158.70,324.81 159.10,320.78 159.50,316.72 159.90,308.98 160.30,303.01 160.70,305.86 161.10,298.63 161.50,298.51 161.90,294.90 162.30,298.29 162.70,295.83 163.10,298.80 163.50,303.54 163.90,310.44 164.30,314.20 164.70,321.74 165.10,328.13 165.50,330.50 165.90,338.44 166.30,339.37 166.70,344.55 167.10,351.79 167.50,351.92 167.90,355.68 168.30,356.47 168.70,357.89 169.10,360.09 169.50,359.84 169.90,360.36 170.30,360.40 170.80,361.3" fill="none" stroke="#111" stroke-width="1.15" stroke-dasharray="3.2,2.0"/>
<polyline points="150.30,361.30 150.63,361.30 150.96,361.30 151.29,361.30 151.62,361.30 151.95,361.30 152.28,361.30 152.61,361.30 152.94,361.30 153.27,361.30 153.60,361.30 153.93,361.30 154.26,361.30 154.59,361.30 154.92,361.30 155.25,361.30 155.58,361.30 155.91,361.30 156.24,361.30 156.57,361.30 156.90,361.30 157.23,361.30 157.56,361.30 157.89,361.30 158.22,361.30 158.55,361.30 158.88,361.30 159.21,361.30 159.54,361.30 159.87,361.30 160.20,361.30 160.53,361.30 160.86,361.30 161.19,361.30 161.52,361.30 161.85,361.30 162.18,361.30 162.51,361.30 162.84,361.30 163.17,361.30 163.50,361.30 163.83,361.30 164.16,361.30 164.49,361.30 164.82,361.03 165.15,361.30 165.48,361.17 165.81,361.19 166.14,361.28 166.47,361.17 166.80,361.30 167.13,361.25 167.46,361.03 167.79,360.77 168.12,359.21 168.45,360.93 168.78,359.25 169.11,359.67 169.44,359.72 169.77,360.36 170.10,358.72 170.43,359.42 170.76,357.63 171.09,357.18 171.42,358.76 171.75,355.41 172.08,356.76 172.41,356.11 172.74,355.36 173.07,355.94 173.40,353.35 173.73,351.92 174.06,353.75 174.39,351.98 174.72,349.71 175.05,351.24 175.38,352.33 175.71,349.01 176.04,350.40 176.37,350.29 176.70,352.08 177.03,347.72 177.36,348.95 177.69,345.32 178.02,350.06 178.35,346.82 178.68,338.95 179.01,337.17 179.34,340.01 179.67,339.43 180.00,346.11 180.33,337.34 180.66,339.98 180.99,343.80 181.32,339.62 181.65,339.08 181.98,332.84 182.31,333.50 182.64,325.40 182.97,327.31 183.30,330.92 183.63,328.19 183.96,333.23 184.29,324.74 184.62,327.87 184.95,324.95 185.28,323.28 185.61,323.44 185.94,324.38 186.27,319.19 186.60,318.33 186.93,330.50 187.26,322.37 187.59,320.04 187.92,320.99 188.25,317.35 188.58,313.87 188.91,316.14 189.24,316.75 189.57,311.16 189.90,313.27 190.23,312.92 190.56,304.66 190.89,308.08 191.22,316.26 191.55,305.21 191.88,313.24 192.21,308.02 192.54,316.24 192.87,302.38 193.20,313.95 193.53,303.20 193.86,294.90 194.19,301.43 194.52,304.01 194.85,309.11 195.18,306.42 195.51,301.76 195.84,317.43 196.17,312.82 196.50,303.44 196.83,312.05 197.16,305.90 197.49,308.73 197.82,315.88 198.15,312.97 198.48,306.50 198.81,314.23 199.14,313.20 199.47,310.97 199.80,316.01 200.13,315.28 200.46,312.49 200.79,316.61 201.12,318.81 201.45,319.64 201.78,317.40 202.11,325.80 202.44,328.86 202.77,317.07 203.10,325.07 203.43,335.98 203.76,331.74 204.09,336.45 204.42,329.09 204.75,336.42 205.08,335.06 205.41,329.05 205.74,337.34 206.07,336.16 206.40,335.97 206.73,334.97 207.06,335.89 207.39,335.73 207.72,342.95 208.05,341.16 208.38,348.29 208.71,345.43 209.04,347.53 209.37,344.83 209.70,349.55 210.03,352.24 210.36,353.48 210.69,355.60 211.02,356.04 211.35,357.31 211.68,357.27 212.01,358.61 212.34,358.47 212.67,358.05 213.00,360.48 213.33,360.55 213.66,361.17 213.99,359.80 214.32,360.46 214.65,361.11 214.98,361.29 215.31,361.30 215.64,361.30 215.97,361.30 216.30,361.30 216.63,361.30 216.96,361.30 217.29,361.30 217.62,361.30 217.95,361.30 218.28,361.30 218.61,361.30 218.94,361.30 219.27,361.30 219.60,361.30 219.93,361.30 220.26,361.30 220.59,361.30 220.92,361.30 221.25,361.30" fill="none" stroke="#ff4040" stroke-width="0.85" stroke-linejoin="round"/>
<rect x="229.5" y="290.4" width="71.19999999999999" height="71.10000000000002" fill="#fff" stroke="#c8c8c8" stroke-width="0.8"/>
<text x="264.9" y="287.6" font-size="9.6" text-anchor="middle" fill="#000">SKOV-3</text>
<polygon points="229.5,361.3 229.50,361.30 229.90,361.30 230.30,361.30 230.70,360.94 231.10,360.43 231.50,360.10 231.90,360.06 232.30,359.38 232.70,359.49 233.10,358.88 233.50,358.51 233.90,358.65 234.30,357.75 234.70,355.84 235.10,355.53 235.50,352.40 235.90,350.71 236.30,348.22 236.70,348.41 237.10,344.20 237.50,345.06 237.90,342.32 238.30,337.93 238.70,334.42 239.10,334.81 239.50,331.83 239.90,323.92 240.30,323.11 240.70,314.69 241.10,313.13 241.50,309.99 241.90,307.10 242.30,302.38 242.70,302.73 243.10,297.13 243.50,300.04 243.90,298.01 244.30,298.68 244.70,294.90 245.10,297.82 245.50,303.37 245.90,299.96 246.30,311.84 246.70,317.42 247.10,322.78 247.50,326.56 247.90,336.41 248.30,340.44 248.70,346.11 249.10,351.91 249.50,352.43 249.90,354.77 250.30,357.61 250.70,358.75 251.10,360.35 251.50,360.82 251.90,360.76 252.30,361.30 252.70,361.30 253.10,361.30 253.50,361.30 253.90,361.30 254.30,361.30 254.70,361.30 255.10,361.30 255.50,361.30 255.90,361.30 256.30,361.30 256.70,361.30 257.10,361.30 257.50,361.30 257.90,361.30 258.30,361.30 258.70,361.30 259.10,361.30 259.50,361.30 259.90,361.30 260.30,361.30 260.70,361.30 261.10,361.30 261.50,361.30 261.90,361.30 262.30,361.30 262.70,361.30 263.10,361.30 263.50,361.30 263.90,361.30 264.30,361.30 264.70,361.30 265.10,361.30 265.50,361.30 265.90,361.30 266.30,361.30 266.70,361.30 267.10,361.30 267.50,361.30 267.90,361.30 268.30,361.30 268.70,361.30 269.10,361.30 269.50,361.30 269.90,361.30 270.30,361.30 270.70,361.30 271.10,361.30 271.50,361.30 271.90,361.30 272.30,361.30 272.70,361.30 273.10,361.30 273.50,361.30 273.90,361.30 274.30,361.30 274.70,361.30 275.10,361.30 275.50,361.30 275.90,361.30 276.30,361.30 276.70,361.30 277.10,361.30 277.50,361.30 277.90,361.30 278.30,361.30 278.70,361.30 279.10,361.30 279.50,361.30 279.90,361.30 280.30,361.30 280.70,361.30 281.10,361.30 281.50,361.30 281.90,361.30 282.30,361.30 282.70,361.30 283.10,361.30 283.50,361.30 283.90,361.30 284.30,361.30 284.70,361.30 285.10,361.30 285.50,361.30 285.90,361.30 286.30,361.30 286.70,361.30 287.10,361.30 287.50,361.30 287.90,361.30 288.30,361.30 288.70,361.30 289.10,361.30 289.50,361.30 289.90,361.30 290.30,361.30 290.70,361.30 291.10,361.30 291.50,361.30 291.90,361.30 292.30,361.30 292.70,361.30 293.10,361.30 293.50,361.30 293.90,361.30 294.30,361.30 294.70,361.30 295.10,361.30 295.50,361.30 295.90,361.30 296.30,361.30 296.70,361.30 297.10,361.30 297.50,361.30 297.90,361.30 298.30,361.30 298.70,361.30 299.10,361.30 299.50,361.30 299.90,361.30 300.30,361.30 300.70,361.30 300.7,361.3" fill="#cbcbcb"/>
<line x1="229.5" y1="361.3" x2="300.7" y2="361.3" stroke="#555" stroke-width="0.9" stroke-dasharray="3.2,2.0"/>
<polyline points="230.20,361.3 230.70,360.94 231.10,360.43 231.50,360.10 231.90,360.06 232.30,359.38 232.70,359.49 233.10,358.88 233.50,358.51 233.90,358.65 234.30,357.75 234.70,355.84 235.10,355.53 235.50,352.40 235.90,350.71 236.30,348.22 236.70,348.41 237.10,344.20 237.50,345.06 237.90,342.32 238.30,337.93 238.70,334.42 239.10,334.81 239.50,331.83 239.90,323.92 240.30,323.11 240.70,314.69 241.10,313.13 241.50,309.99 241.90,307.10 242.30,302.38 242.70,302.73 243.10,297.13 243.50,300.04 243.90,298.01 244.30,298.68 244.70,294.90 245.10,297.82 245.50,303.37 245.90,299.96 246.30,311.84 246.70,317.42 247.10,322.78 247.50,326.56 247.90,336.41 248.30,340.44 248.70,346.11 249.10,351.91 249.50,352.43 249.90,354.77 250.30,357.61 250.70,358.75 251.10,360.35 251.50,360.82 251.90,360.76 252.40,361.3" fill="none" stroke="#111" stroke-width="1.15" stroke-dasharray="3.2,2.0"/>
<polyline points="229.50,361.30 229.83,361.30 230.16,361.30 230.49,361.30 230.82,361.30 231.15,361.30 231.48,361.30 231.81,361.30 232.14,361.30 232.47,361.30 232.80,361.30 233.13,361.30 233.46,361.30 233.79,361.30 234.12,361.30 234.45,361.30 234.78,361.30 235.11,361.30 235.44,361.30 235.77,361.30 236.10,361.30 236.43,361.30 236.76,361.30 237.09,361.30 237.42,361.30 237.75,361.30 238.08,361.30 238.41,361.30 238.74,361.30 239.07,361.30 239.40,361.30 239.73,361.30 240.06,361.30 240.39,361.30 240.72,361.30 241.05,361.30 241.38,361.30 241.71,361.30 242.04,361.30 242.37,361.30 242.70,361.30 243.03,361.30 243.36,361.30 243.69,361.30 244.02,361.30 244.35,361.30 244.68,361.30 245.01,361.30 245.34,361.30 245.67,361.30 246.00,361.30 246.33,361.30 246.66,361.30 246.99,361.30 247.32,361.30 247.65,361.30 247.98,361.30 248.31,361.30 248.64,361.30 248.97,361.30 249.30,361.30 249.63,361.30 249.96,361.30 250.29,361.30 250.62,361.30 250.95,360.48 251.28,361.30 251.61,360.83 251.94,359.78 252.27,358.75 252.60,360.37 252.93,357.88 253.26,357.20 253.59,358.58 253.92,358.03 254.25,357.51 254.58,359.38 254.91,353.12 255.24,355.33 255.57,357.59 255.90,354.34 256.23,354.04 256.56,354.62 256.89,353.62 257.22,351.73 257.55,353.75 257.88,354.13 258.21,348.45 258.54,350.42 258.87,351.43 259.20,346.55 259.53,354.05 259.86,350.90 260.19,346.11 260.52,346.18 260.85,345.01 261.18,346.14 261.51,345.44 261.84,344.20 262.17,342.70 262.50,338.75 262.83,336.65 263.16,336.77 263.49,333.10 263.82,341.50 264.15,335.46 264.48,337.20 264.81,326.60 265.14,332.00 265.47,327.66 265.80,327.58 266.13,329.57 266.46,328.63 266.79,321.71 267.12,319.13 267.45,322.34 267.78,311.52 268.11,316.63 268.44,311.53 268.77,312.00 269.10,307.88 269.43,317.71 269.76,303.46 270.09,305.40 270.42,304.66 270.75,301.73 271.08,303.86 271.41,312.82 271.74,308.10 272.07,310.31 272.40,306.99 272.73,301.27 273.06,296.58 273.39,310.07 273.72,308.35 274.05,302.30 274.38,299.49 274.71,300.43 275.04,304.07 275.37,299.12 275.70,299.25 276.03,304.50 276.36,294.90 276.69,308.72 277.02,302.42 277.35,303.85 277.68,303.34 278.01,302.26 278.34,310.67 278.67,310.58 279.00,309.11 279.33,306.26 279.66,318.00 279.99,314.49 280.32,318.45 280.65,324.54 280.98,320.53 281.31,327.63 281.64,325.22 281.97,325.86 282.30,319.88 282.63,332.17 282.96,327.87 283.29,330.80 283.62,333.56 283.95,335.84 284.28,331.82 284.61,339.61 284.94,337.03 285.27,341.47 285.60,340.65 285.93,341.95 286.26,349.43 286.59,349.40 286.92,348.90 287.25,349.92 287.58,354.18 287.91,352.03 288.24,352.53 288.57,355.43 288.90,356.25 289.23,358.93 289.56,357.16 289.89,357.46 290.22,357.84 290.55,360.45 290.88,360.62 291.21,361.30 291.54,361.30 291.87,361.30 292.20,361.30 292.53,361.30 292.86,361.30 293.19,361.30 293.52,361.30 293.85,361.30 294.18,361.30 294.51,361.30 294.84,361.30 295.17,361.30 295.50,361.30 295.83,361.30 296.16,361.30 296.49,361.30 296.82,361.30 297.15,361.30 297.48,361.30 297.81,361.30 298.14,361.30 298.47,361.30 298.80,361.30 299.13,361.30 299.46,361.30 299.79,361.30 300.12,361.30 300.45,361.30" fill="none" stroke="#ff4040" stroke-width="0.85" stroke-linejoin="round"/>
<text x="353.3" y="182.9" font-size="22">D</text>
<rect x="389.3" y="165.3" width="123.99999999999994" height="123.0" fill="#fff" stroke="#666" stroke-width="0.9"/>
<polygon points="389.3,287.8 389.30,287.80 389.80,287.80 390.30,287.44 390.80,287.26 391.30,286.73 391.80,286.21 392.30,285.20 392.80,284.69 393.30,283.56 393.80,283.82 394.30,281.07 394.80,280.74 395.30,278.94 395.80,278.01 396.30,276.65 396.80,274.38 397.30,272.30 397.80,271.13 398.30,268.82 398.80,265.51 399.30,264.43 399.80,262.37 400.30,257.27 400.80,255.51 401.30,253.92 401.80,248.69 402.30,244.04 402.80,240.90 403.30,237.43 403.80,231.62 404.30,227.57 404.80,227.29 405.30,226.33 405.80,222.73 406.30,220.47 406.80,220.41 407.30,216.74 407.80,213.16 408.30,211.72 408.80,208.33 409.30,201.31 409.80,197.16 410.30,191.83 410.80,193.35 411.30,188.72 411.80,186.08 412.30,185.47 412.80,179.34 413.30,177.01 413.80,178.54 414.30,172.54 414.80,172.80 415.30,172.45 415.80,172.49 416.30,171.10 416.80,176.57 417.30,172.70 417.80,173.64 418.30,180.26 418.80,177.08 419.30,185.94 419.80,196.46 420.30,207.20 420.80,210.42 421.30,212.76 421.80,217.87 422.30,218.85 422.80,224.66 423.30,228.67 423.80,235.23 424.30,237.28 424.80,242.22 425.30,247.41 425.80,250.51 426.30,254.21 426.80,258.82 427.30,268.00 427.80,271.32 428.30,276.76 428.80,280.98 429.30,284.22 429.80,285.79 430.30,287.80 430.80,287.80 431.30,287.80 431.80,287.80 432.30,287.80 432.80,287.80 433.30,287.80 433.80,287.80 434.30,287.80 434.80,287.80 435.30,287.80 435.80,287.80 436.30,287.80 436.80,287.80 437.30,287.80 437.80,287.80 438.30,287.80 438.80,287.80 439.30,287.80 439.80,287.80 440.30,287.80 440.80,287.80 441.30,287.80 441.80,287.80 442.30,287.80 442.80,287.80 443.30,287.80 443.80,287.80 444.30,287.80 444.80,287.80 445.30,287.80 445.80,287.80 446.30,287.80 446.80,287.80 447.30,287.80 447.80,287.80 448.30,287.80 448.80,287.80 449.30,287.80 449.80,287.80 450.30,287.80 450.80,287.80 451.30,287.80 451.80,287.80 452.30,287.80 452.80,287.80 453.30,287.80 453.80,287.80 454.30,287.80 454.80,287.80 455.30,287.80 455.80,287.80 456.30,287.80 456.80,287.80 457.30,287.80 457.80,287.80 458.30,287.80 458.80,287.80 459.30,287.80 459.80,287.80 460.30,287.80 460.80,287.80 461.30,287.80 461.80,287.80 462.30,287.80 462.80,287.80 463.30,287.80 463.80,287.80 464.30,287.80 464.80,287.80 465.30,287.80 465.80,287.80 466.30,287.80 466.80,287.80 467.30,287.80 467.80,287.80 468.30,287.80 468.80,287.80 469.30,287.80 469.80,287.80 470.30,287.80 470.80,287.80 471.30,287.80 471.80,287.80 472.30,287.80 472.80,287.80 473.30,287.80 473.80,287.80 474.30,287.80 474.80,287.80 475.30,287.80 475.80,287.80 476.30,287.80 476.80,287.80 477.30,287.80 477.80,287.80 478.30,287.80 478.80,287.80 479.30,287.80 479.80,287.80 480.30,287.80 480.80,287.80 481.30,287.80 481.80,287.80 482.30,287.80 482.80,287.80 483.30,287.80 483.80,287.80 484.30,287.80 484.80,287.80 485.30,287.80 485.80,287.80 486.30,287.80 486.80,287.80 487.30,287.80 487.80,287.80 488.30,287.80 488.80,287.80 489.30,287.80 489.80,287.80 490.30,287.80 490.80,287.80 491.30,287.80 491.80,287.80 492.30,287.80 492.80,287.80 493.30,287.80 493.80,287.80 494.30,287.80 494.80,287.80 495.30,287.80 495.80,287.80 496.30,287.80 496.80,287.80 497.30,287.80 497.80,287.80 498.30,287.80 498.80,287.80 499.30,287.80 499.80,287.80 500.30,287.80 500.80,287.80 501.30,287.80 501.80,287.80 502.30,287.80 502.80,287.80 503.30,287.80 503.80,287.80 504.30,287.80 504.80,287.80 505.30,287.80 505.80,287.80 506.30,287.80 506.80,287.80 507.30,287.80 507.80,287.80 508.30,287.80 508.80,287.80 509.30,287.80 509.80,287.80 510.30,287.80 510.80,287.80 511.30,287.80 511.80,287.80 512.30,287.80 512.80,287.80 513.30,287.80 513.3,287.8" fill="#c8c8c8"/>
<polygon points="389.3,287.8 389.30,287.80 389.80,287.80 390.30,287.80 390.80,286.44 391.30,283.50 391.80,286.74 392.30,284.56 392.80,285.10 393.30,280.70 393.80,275.92 394.30,277.52 394.80,274.21 395.30,281.56 395.80,272.40 396.30,275.18 396.80,262.22 397.30,264.21 397.80,261.98 398.30,264.84 398.80,259.39 399.30,256.81 399.80,259.76 400.30,257.85 400.80,252.35 401.30,251.86 401.80,247.73 402.30,240.48 402.80,238.43 403.30,221.89 403.80,236.23 404.30,211.38 404.80,218.67 405.30,212.30 405.80,214.47 406.30,198.34 406.80,194.69 407.30,187.62 407.80,194.85 408.30,188.51 408.80,171.10 409.30,185.33 409.80,195.49 410.30,181.52 410.80,194.54 411.30,190.16 411.80,192.86 412.30,205.19 412.80,222.66 413.30,211.49 413.80,207.02 414.30,218.53 414.80,214.73 415.30,213.56 415.80,229.39 416.30,218.96 416.80,220.18 417.30,228.45 417.80,231.71 418.30,235.64 418.80,231.41 419.30,247.97 419.80,251.77 420.30,250.39 420.80,260.88 421.30,265.85 421.80,263.24 422.30,257.46 422.80,257.89 423.30,269.24 423.80,271.63 424.30,264.11 424.80,263.99 425.30,263.75 425.80,260.53 426.30,258.07 426.80,263.25 427.30,261.59 427.80,270.12 428.30,270.65 428.80,263.93 429.30,262.00 429.80,261.85 430.30,262.64 430.80,261.88 431.30,261.93 431.80,274.31 432.30,269.66 432.80,264.26 433.30,263.83 433.80,273.89 434.30,261.66 434.80,269.36 435.30,268.66 435.80,266.62 436.30,264.75 436.80,274.84 437.30,264.33 437.80,268.70 438.30,272.73 438.80,270.91 439.30,279.45 439.80,273.22 440.30,270.12 440.80,274.24 441.30,273.08 441.80,272.79 442.30,272.48 442.80,269.18 443.30,273.74 443.80,275.12 444.30,272.67 444.80,267.66 445.30,276.92 445.80,274.52 446.30,282.22 446.80,273.22 447.30,276.20 447.80,274.92 448.30,279.79 448.80,283.17 449.30,278.48 449.80,279.45 450.30,284.01 450.80,285.81 451.30,281.67 451.80,283.46 452.30,277.90 452.80,285.05 453.30,285.19 453.80,284.74 454.30,287.80 454.80,286.74 455.30,283.28 455.80,286.27 456.30,287.19 456.80,287.80 457.30,286.82 457.80,287.38 458.30,287.80 458.80,287.80 459.30,287.80 459.80,287.80 460.30,287.80 460.80,287.80 461.30,287.80 461.80,287.80 462.30,287.80 462.80,287.80 463.30,287.80 463.80,287.80 464.30,287.80 464.80,287.80 465.30,287.80 465.80,287.80 466.30,287.80 466.80,287.80 467.30,287.80 467.80,287.80 468.30,287.80 468.80,287.80 469.30,287.80 469.80,287.80 470.30,287.80 470.80,287.80 471.30,287.80 471.80,287.80 472.30,287.80 472.80,287.80 473.30,287.80 473.80,287.80 474.30,287.80 474.80,287.80 475.30,287.80 475.80,287.80 476.30,287.80 476.80,287.80 477.30,287.80 477.80,287.80 478.30,287.80 478.80,287.80 479.30,287.80 479.80,287.80 480.30,287.80 480.80,287.80 481.30,287.80 481.80,287.80 482.30,287.80 482.80,287.80 483.30,287.80 483.80,287.80 484.30,287.80 484.80,287.80 485.30,287.80 485.80,287.80 486.30,287.80 486.80,287.80 487.30,287.80 487.80,287.80 488.30,287.80 488.80,287.80 489.30,287.80 489.80,287.80 490.30,287.80 490.80,287.80 491.30,287.80 491.80,287.80 492.30,287.80 492.80,287.80 493.30,287.80 493.80,287.80 494.30,287.80 494.80,287.80 495.30,287.80 495.80,287.80 496.30,287.80 496.80,287.80 497.30,287.80 497.80,287.80 498.30,287.80 498.80,287.80 499.30,287.80 499.80,287.80 500.30,287.80 500.80,287.80 501.30,287.80 501.80,287.80 502.30,287.80 502.80,287.80 503.30,287.80 503.80,287.80 504.30,287.80 504.80,287.80 505.30,287.80 505.80,287.80 506.30,287.80 506.80,287.80 507.30,287.80 507.80,287.80 508.30,287.80 508.80,287.80 509.30,287.80 509.80,287.80 510.30,287.80 510.80,287.80 511.30,287.80 511.80,287.80 512.30,287.80 512.80,287.80 513.30,287.80 513.3,287.8" fill="#f97878"/>
<polyline points="389.30,287.80 389.80,287.80 390.30,287.80 390.80,286.44 391.30,283.50 391.80,286.74 392.30,284.56 392.80,285.10 393.30,280.70 393.80,275.92 394.30,277.52 394.80,274.21 395.30,281.56 395.80,272.40 396.30,275.18 396.80,262.22 397.30,264.21 397.80,261.98 398.30,264.84 398.80,259.39 399.30,256.81 399.80,259.76 400.30,257.85 400.80,252.35 401.30,251.86 401.80,247.73 402.30,240.48 402.80,238.43 403.30,221.89 403.80,236.23 404.30,211.38 404.80,218.67 405.30,212.30 405.80,214.47 406.30,198.34 406.80,194.69 407.30,187.62 407.80,194.85 408.30,188.51 408.80,171.10 409.30,185.33 409.80,195.49 410.30,181.52 410.80,194.54 411.30,190.16 411.80,192.86 412.30,205.19 412.80,222.66 413.30,211.49 413.80,207.02 414.30,218.53 414.80,214.73 415.30,213.56 415.80,229.39 416.30,218.96 416.80,220.18 417.30,228.45 417.80,231.71 418.30,235.64 418.80,231.41 419.30,247.97 419.80,251.77 420.30,250.39 420.80,260.88 421.30,265.85 421.80,263.24 422.30,257.46 422.80,257.89 423.30,269.24 423.80,271.63 424.30,264.11 424.80,263.99 425.30,263.75 425.80,260.53 426.30,258.07 426.80,263.25 427.30,261.59 427.80,270.12 428.30,270.65 428.80,263.93 429.30,262.00 429.80,261.85 430.30,262.64 430.80,261.88 431.30,261.93 431.80,274.31 432.30,269.66 432.80,264.26 433.30,263.83 433.80,273.89 434.30,261.66 434.80,269.36 435.30,268.66 435.80,266.62 436.30,264.75 436.80,274.84 437.30,264.33 437.80,268.70 438.30,272.73 438.80,270.91 439.30,279.45 439.80,273.22 440.30,270.12 440.80,274.24 441.30,273.08 441.80,272.79 442.30,272.48 442.80,269.18 443.30,273.74 443.80,275.12 444.30,272.67 444.80,267.66 445.30,276.92 445.80,274.52 446.30,282.22 446.80,273.22 447.30,276.20 447.80,274.92 448.30,279.79 448.80,283.17 449.30,278.48 449.80,279.45 450.30,284.01 450.80,285.81 451.30,281.67 451.80,283.46 452.30,277.90 452.80,285.05 453.30,285.19 453.80,284.74 454.30,287.80 454.80,286.74 455.30,283.28 455.80,286.27 456.30,287.19 456.80,287.80 457.30,286.82 457.80,287.38 458.30,287.80 458.80,287.80 459.30,287.80 459.80,287.80 460.30,287.80 460.80,287.80 461.30,287.80 461.80,287.80 462.30,287.80 462.80,287.80 463.30,287.80 463.80,287.80 464.30,287.80 464.80,287.80 465.30,287.80 465.80,287.80 466.30,287.80 466.80,287.80 467.30,287.80 467.80,287.80 468.30,287.80 468.80,287.80 469.30,287.80 469.80,287.80 470.30,287.80 470.80,287.80 471.30,287.80 471.80,287.80 472.30,287.80 472.80,287.80 473.30,287.80 473.80,287.80 474.30,287.80 474.80,287.80 475.30,287.80 475.80,287.80 476.30,287.80 476.80,287.80 477.30,287.80 477.80,287.80 478.30,287.80 478.80,287.80 479.30,287.80 479.80,287.80 480.30,287.80 480.80,287.80 481.30,287.80 481.80,287.80 482.30,287.80 482.80,287.80 483.30,287.80 483.80,287.80 484.30,287.80 484.80,287.80 485.30,287.80 485.80,287.80 486.30,287.80 486.80,287.80 487.30,287.80 487.80,287.80 488.30,287.80 488.80,287.80 489.30,287.80 489.80,287.80 490.30,287.80 490.80,287.80 491.30,287.80 491.80,287.80 492.30,287.80 492.80,287.80 493.30,287.80 493.80,287.80 494.30,287.80 494.80,287.80 495.30,287.80 495.80,287.80 496.30,287.80 496.80,287.80 497.30,287.80 497.80,287.80 498.30,287.80 498.80,287.80 499.30,287.80 499.80,287.80 500.30,287.80 500.80,287.80 501.30,287.80 501.80,287.80 502.30,287.80 502.80,287.80 503.30,287.80 503.80,287.80 504.30,287.80 504.80,287.80 505.30,287.80 505.80,287.80 506.30,287.80 506.80,287.80 507.30,287.80 507.80,287.80 508.30,287.80 508.80,287.80 509.30,287.80 509.80,287.80 510.30,287.80 510.80,287.80 511.30,287.80 511.80,287.80 512.30,287.80 512.80,287.80 513.30,287.80" fill="none" stroke="#ff3030" stroke-width="0.7"/>
<polyline points="389.30,287.80 389.80,287.80 390.30,287.80 390.80,286.51 391.30,286.74 391.80,286.68 392.30,286.14 392.80,285.79 393.30,284.28 393.80,282.23 394.30,281.42 394.80,280.13 395.30,282.25 395.80,280.88 396.30,274.20 396.80,273.53 397.30,269.34 397.80,269.16 398.30,271.82 398.80,264.09 399.30,263.01 399.80,261.32 400.30,261.37 400.80,256.15 401.30,253.50 401.80,246.44 402.30,244.85 402.80,235.51 403.30,240.23 403.80,232.33 404.30,229.78 404.80,233.25 405.30,232.97 405.80,222.59 406.30,223.14 406.80,224.36 407.30,220.11 407.80,222.35 408.30,215.06 408.80,214.80 409.30,206.88 409.80,199.09 410.30,202.19 410.80,193.14 411.30,199.56 411.80,192.98 412.30,196.05 412.80,187.31 413.30,184.53 413.80,184.17 414.30,182.83 414.80,172.64 415.30,171.10 415.80,185.04 416.30,172.05 416.80,188.28 417.30,183.58 417.80,181.55 418.30,181.62 418.80,196.22 419.30,205.85 419.80,209.10 420.30,217.82 420.80,222.15 421.30,221.22 421.80,224.75 422.30,233.04 422.80,236.88 423.30,240.97 423.80,246.12 424.30,249.78 424.80,254.95 425.30,253.59 425.80,260.12 426.30,265.41 426.80,270.10 427.30,274.73 427.80,277.85 428.30,283.24 428.80,285.71 429.30,287.18 429.80,287.80 430.30,287.80 430.80,287.80 431.30,287.80 431.80,287.80 432.30,287.80 432.80,287.80 433.30,287.80 433.80,287.80 434.30,287.80 434.80,287.80 435.30,287.80 435.80,287.80 436.30,287.80 436.80,287.80 437.30,287.80 437.80,287.80 438.30,287.80 438.80,287.80 439.30,287.80 439.80,287.80 440.30,287.80 440.80,287.80 441.30,287.80 441.80,287.80 442.30,287.80 442.80,287.80 443.30,287.80 443.80,287.80 444.30,287.80 444.80,287.80 445.30,287.80 445.80,287.80 446.30,287.80 446.80,287.80 447.30,287.80 447.80,287.80 448.30,287.80 448.80,287.80 449.30,287.80 449.80,287.80 450.30,287.80 450.80,287.80 451.30,287.80 451.80,287.80 452.30,287.80 452.80,287.80 453.30,287.80 453.80,287.80 454.30,287.80 454.80,287.80 455.30,287.80 455.80,287.80 456.30,287.80 456.80,287.80 457.30,287.80 457.80,287.80 458.30,287.80 458.80,287.80 459.30,287.80 459.80,287.80 460.30,287.80 460.80,287.80 461.30,287.80 461.80,287.80 462.30,287.80 462.80,287.80 463.30,287.80 463.80,287.80 464.30,287.80 464.80,287.80 465.30,287.80 465.80,287.80 466.30,287.80 466.80,287.80 467.30,287.80 467.80,287.80 468.30,287.80 468.80,287.80 469.30,287.80 469.80,287.80 470.30,287.80 470.80,287.80 471.30,287.80 471.80,287.80 472.30,287.80 472.80,287.80 473.30,287.80 473.80,287.80 474.30,287.80 474.80,287.80 475.30,287.80 475.80,287.80 476.30,287.80 476.80,287.80 477.30,287.80 477.80,287.80 478.30,287.80 478.80,287.80 479.30,287.80 479.80,287.80 480.30,287.80 480.80,287.80 481.30,287.80 481.80,287.80 482.30,287.80 482.80,287.80 483.30,287.80 483.80,287.80 484.30,287.80 484.80,287.80 485.30,287.80 485.80,287.80 486.30,287.80 486.80,287.80 487.30,287.80 487.80,287.80 488.30,287.80 488.80,287.80 489.30,287.80 489.80,287.80 490.30,287.80 490.80,287.80 491.30,287.80 491.80,287.80 492.30,287.80 492.80,287.80 493.30,287.80 493.80,287.80 494.30,287.80 494.80,287.80 495.30,287.80 495.80,287.80 496.30,287.80 496.80,287.80 497.30,287.80 497.80,287.80 498.30,287.80 498.80,287.80 499.30,287.80 499.80,287.80 500.30,287.80 500.80,287.80 501.30,287.80 501.80,287.80 502.30,287.80 502.80,287.80 503.30,287.80 503.80,287.80 504.30,287.80 504.80,287.80 505.30,287.80 505.80,287.80 506.30,287.80 506.80,287.80 507.30,287.80 507.80,287.80 508.30,287.80 508.80,287.80 509.30,287.80 509.80,287.80 510.30,287.80 510.80,287.80 511.30,287.80 511.80,287.80 512.30,287.80 512.80,287.80 513.30,287.80" fill="none" stroke="#111" stroke-width="1.3" stroke-dasharray="3.2,2.0"/>
<polyline points="389.30,287.80 389.80,287.80 390.30,287.80 390.80,287.80 391.30,287.80 391.80,287.80 392.30,287.80 392.80,287.80 393.30,287.80 393.80,287.80 394.30,287.80 394.80,287.80 395.30,287.80 395.80,287.80 396.30,287.80 396.80,287.80 397.30,287.80 397.80,287.80 398.30,287.80 398.80,287.80 399.30,287.80 399.80,287.80 400.30,287.80 400.80,287.80 401.30,287.80 401.80,287.80 402.30,287.80 402.80,287.80 403.30,287.80 403.80,287.80 404.30,287.80 404.80,287.80 405.30,287.80 405.80,287.80 406.30,287.80 406.80,287.80 407.30,287.80 407.80,287.80 408.30,287.80 408.80,287.80 409.30,287.80 409.80,287.80 410.30,287.80 410.80,287.80 411.30,287.80 411.80,287.80 412.30,287.80 412.80,287.80 413.30,287.80 413.80,287.80 414.30,287.80 414.80,287.80 415.30,287.80 415.80,287.80 416.30,287.80 416.80,287.80 417.30,287.80 417.80,287.80 418.30,287.80 418.80,287.80 419.30,287.80 419.80,287.80 420.30,287.80 420.80,287.80 421.30,287.80 421.80,287.80 422.30,287.80 422.80,287.80 423.30,287.80 423.80,287.80 424.30,287.80 424.80,287.80 425.30,287.80 425.80,287.80 426.30,287.80 426.80,287.80 427.30,287.80 427.80,287.80 428.30,287.80 428.80,287.80 429.30,287.80 429.80,287.80 430.30,287.80 430.80,287.80 431.30,287.80 431.80,287.80 432.30,287.80 432.80,287.80 433.30,287.80 433.80,287.80 434.30,287.80 434.80,287.80 435.30,287.80 435.80,287.80 436.30,287.56 436.80,284.94 437.30,282.54 437.80,279.61 438.30,274.52 438.80,273.38 439.30,276.36 439.80,273.87 440.30,275.58 440.80,276.87 441.30,270.55 441.80,272.45 442.30,264.90 442.80,262.60 443.30,261.53 443.80,270.37 444.30,262.70 444.80,269.52 445.30,270.13 445.80,260.15 446.30,254.08 446.80,259.05 447.30,245.31 447.80,238.28 448.30,237.36 448.80,248.97 449.30,237.87 449.80,240.67 450.30,235.94 450.80,242.05 451.30,236.36 451.80,212.30 452.30,215.18 452.80,217.74 453.30,234.01 453.80,225.46 454.30,212.20 454.80,220.96 455.30,225.78 455.80,226.34 456.30,202.16 456.80,195.25 457.30,194.32 457.80,193.69 458.30,180.34 458.80,186.35 459.30,191.29 459.80,177.11 460.30,190.49 460.80,200.03 461.30,176.85 461.80,181.90 462.30,171.10 462.80,192.59 463.30,200.56 463.80,185.91 464.30,180.28 464.80,195.73 465.30,187.69 465.80,194.70 466.30,201.31 466.80,190.20 467.30,197.64 467.80,195.92 468.30,188.81 468.80,187.49 469.30,185.23 469.80,191.82 470.30,195.71 470.80,192.83 471.30,205.80 471.80,210.09 472.30,224.24 472.80,222.53 473.30,217.33 473.80,225.41 474.30,225.57 474.80,231.09 475.30,211.63 475.80,228.27 476.30,215.22 476.80,223.70 477.30,226.79 477.80,232.26 478.30,226.92 478.80,224.19 479.30,232.09 479.80,235.48 480.30,229.98 480.80,222.18 481.30,241.83 481.80,248.69 482.30,249.12 482.80,234.19 483.30,252.79 483.80,264.92 484.30,249.72 484.80,259.21 485.30,242.38 485.80,240.86 486.30,255.40 486.80,247.59 487.30,254.47 487.80,245.16 488.30,256.98 488.80,256.20 489.30,268.42 489.80,245.58 490.30,250.76 490.80,260.67 491.30,263.97 491.80,257.65 492.30,256.97 492.80,272.08 493.30,271.40 493.80,270.02 494.30,278.26 494.80,263.37 495.30,278.88 495.80,271.45 496.30,265.50 496.80,267.83 497.30,275.62 497.80,274.85 498.30,276.16 498.80,271.27 499.30,273.42 499.80,284.17 500.30,275.84 500.80,272.27 501.30,278.75 501.80,281.91 502.30,276.11 502.80,283.10 503.30,281.83 503.80,283.17 504.30,281.60 504.80,283.97 505.30,281.74 505.80,283.44 506.30,283.71 506.80,283.71 507.30,285.47 507.80,286.94 508.30,287.00 508.80,286.28 509.30,287.22 509.80,287.08 510.30,287.76 510.80,287.72 511.30,287.80 511.80,287.80 512.30,287.80 512.80,287.80 513.30,287.80" fill="none" stroke="#ff3a3a" stroke-width="0.8"/>
<line x1="379.2" y1="171" x2="379.2" y2="298.4" stroke="#666" stroke-width="0.95"/>
<path d="M379.2,166.8 L376.9,171.6 L381.5,171.6 Z" fill="#111"/>
<line x1="378.8" y1="298" x2="508" y2="298" stroke="#666" stroke-width="0.95"/>
<path d="M512.3,298 L507.5,295.8 L507.5,300.2 Z" fill="#111"/>
<text transform="translate(376.1,231.3) rotate(-90)" font-size="9.4" text-anchor="middle" fill="#111">% of Max</text>
<text x="379.6" y="309.7" font-size="9.45" fill="#111">Fluorescence intensity EX-02</text>
<rect x="378.4" y="317.7" width="20.3" height="18.6" fill="#fff" stroke="#f24a4a" stroke-width="1.2"/>
<text x="401.5" y="332.4" font-size="9.45" fill="#111">SKOV-3 wt</text>
<rect x="378.4" y="342.4" width="20.3" height="19.2" fill="#f98282" stroke="#f24a4a" stroke-width="1.2"/>
<text x="400.7" y="355.3" font-size="9.55" fill="#111">SKOV-3 SRRM2 KO</text>
</svg>
</body></html>
